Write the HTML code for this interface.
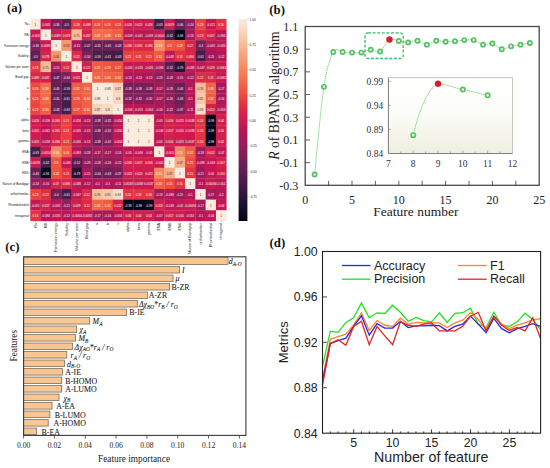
<!DOCTYPE html>
<html><head><meta charset="utf-8"><title>Figure</title>
<style>
html,body{margin:0;padding:0;background:#fff;}
body{width:550px;height:468px;overflow:hidden;}
svg{display:block;}
.plab{font-family:"Liberation Serif",serif;font-weight:bold;font-size:12.8px;fill:#111;}
.ann{font-family:"Liberation Sans",sans-serif;font-size:3.0px;text-anchor:middle;}
.hyl{font-family:"Liberation Sans",sans-serif;font-size:3.1px;fill:#1a1a1a;text-anchor:end;}
.hxl{font-family:"Liberation Sans",sans-serif;font-size:3.1px;fill:#1a1a1a;text-anchor:end;}
.cbl{font-family:"Liberation Sans",sans-serif;font-size:3.2px;fill:#1a1a1a;}
.bt{font-family:"Liberation Serif",serif;font-size:12px;fill:#222;}
.bxl{font-family:"Liberation Serif",serif;font-size:13.5px;fill:#222;}
.it{font-family:"Liberation Serif",serif;font-size:9.5px;fill:#333;}
.cl{font-family:"Liberation Serif",serif;font-size:7.9px;fill:#222;stroke:#222;stroke-width:0.08px;}
.ct{font-family:"Liberation Serif",serif;font-size:7.6px;fill:#222;}
.cxl{font-family:"Liberation Serif",serif;font-size:9.3px;fill:#222;}
.dt{font-family:"Liberation Sans",sans-serif;font-size:12.3px;fill:#222;}
.dxl{font-family:"Liberation Sans",sans-serif;font-size:14.2px;fill:#222;}
.dyl{font-family:"Liberation Sans",sans-serif;font-size:13px;fill:#222;}
.dleg{font-family:"Liberation Sans",sans-serif;font-size:12.5px;fill:#222;}
</style></head>
<body>
<svg width="550" height="468" viewBox="0 0 550 468">
<rect width="550" height="468" fill="#fff"/>
<g id="pa">
<text x="7" y="11.8" class="plab">(a)</text>
<rect x="30.30" y="18.90" width="10.57" height="10.88" fill="#faebdd"/>
<rect x="40.62" y="18.90" width="10.57" height="10.88" fill="#c81951"/>
<rect x="50.93" y="18.90" width="10.57" height="10.88" fill="#7d1f5a"/>
<rect x="61.25" y="18.90" width="10.57" height="10.88" fill="#601f52"/>
<rect x="71.56" y="18.90" width="10.57" height="10.88" fill="#e53940"/>
<rect x="81.88" y="18.90" width="10.57" height="10.88" fill="#d82748"/>
<rect x="92.19" y="18.90" width="10.57" height="10.88" fill="#ec4c3e"/>
<rect x="102.51" y="18.90" width="10.57" height="10.88" fill="#ec4a3e"/>
<rect x="112.83" y="18.90" width="10.57" height="10.88" fill="#ea443e"/>
<rect x="123.14" y="18.90" width="10.57" height="10.88" fill="#ce1d4e"/>
<rect x="133.46" y="18.90" width="10.57" height="10.88" fill="#ce1d4e"/>
<rect x="143.77" y="18.90" width="10.57" height="10.88" fill="#ce1d4e"/>
<rect x="154.09" y="18.90" width="10.57" height="10.88" fill="#451c47"/>
<rect x="164.41" y="18.90" width="10.57" height="10.88" fill="#cb1b4f"/>
<rect x="174.72" y="18.90" width="10.57" height="10.88" fill="#681f55"/>
<rect x="185.04" y="18.90" width="10.57" height="10.88" fill="#971c5b"/>
<rect x="195.35" y="18.90" width="10.57" height="10.88" fill="#ea443e"/>
<rect x="205.67" y="18.90" width="10.57" height="10.88" fill="#c51852"/>
<rect x="215.98" y="18.90" width="10.57" height="10.88" fill="#e23442"/>
<rect x="30.30" y="29.53" width="10.57" height="10.88" fill="#c81951"/>
<rect x="40.62" y="29.53" width="10.57" height="10.88" fill="#faebdd"/>
<rect x="50.93" y="29.53" width="10.57" height="10.88" fill="#cb1b4f"/>
<rect x="61.25" y="29.53" width="10.57" height="10.88" fill="#d72549"/>
<rect x="71.56" y="29.53" width="10.57" height="10.88" fill="#f6bb97"/>
<rect x="81.88" y="29.53" width="10.57" height="10.88" fill="#d5224a"/>
<rect x="92.19" y="29.53" width="10.57" height="10.88" fill="#f26d4b"/>
<rect x="102.51" y="29.53" width="10.57" height="10.88" fill="#f26b49"/>
<rect x="112.83" y="29.53" width="10.57" height="10.88" fill="#f05e42"/>
<rect x="123.14" y="29.53" width="10.57" height="10.88" fill="#bd1655"/>
<rect x="133.46" y="29.53" width="10.57" height="10.88" fill="#bd1655"/>
<rect x="143.77" y="29.53" width="10.57" height="10.88" fill="#bd1655"/>
<rect x="154.09" y="29.53" width="10.57" height="10.88" fill="#c81951"/>
<rect x="164.41" y="29.53" width="10.57" height="10.88" fill="#461c48"/>
<rect x="174.72" y="29.53" width="10.57" height="10.88" fill="#0a091f"/>
<rect x="185.04" y="29.53" width="10.57" height="10.88" fill="#a8185a"/>
<rect x="195.35" y="29.53" width="10.57" height="10.88" fill="#df2f44"/>
<rect x="205.67" y="29.53" width="10.57" height="10.88" fill="#d3214b"/>
<rect x="215.98" y="29.53" width="10.57" height="10.88" fill="#b91657"/>
<rect x="30.30" y="40.16" width="10.57" height="10.88" fill="#7d1f5a"/>
<rect x="40.62" y="40.16" width="10.57" height="10.88" fill="#cb1b4f"/>
<rect x="50.93" y="40.16" width="10.57" height="10.88" fill="#faebdd"/>
<rect x="61.25" y="40.16" width="10.57" height="10.88" fill="#f5976e"/>
<rect x="71.56" y="40.16" width="10.57" height="10.88" fill="#ab185a"/>
<rect x="81.88" y="40.16" width="10.57" height="10.88" fill="#641f54"/>
<rect x="92.19" y="40.16" width="10.57" height="10.88" fill="#691f55"/>
<rect x="102.51" y="40.16" width="10.57" height="10.88" fill="#691f55"/>
<rect x="112.83" y="40.16" width="10.57" height="10.88" fill="#6e1f57"/>
<rect x="123.14" y="40.16" width="10.57" height="10.88" fill="#d92847"/>
<rect x="133.46" y="40.16" width="10.57" height="10.88" fill="#d92847"/>
<rect x="143.77" y="40.16" width="10.57" height="10.88" fill="#d92847"/>
<rect x="154.09" y="40.16" width="10.57" height="10.88" fill="#f58d64"/>
<rect x="164.41" y="40.16" width="10.57" height="10.88" fill="#ef5640"/>
<rect x="174.72" y="40.16" width="10.57" height="10.88" fill="#ee523f"/>
<rect x="185.04" y="40.16" width="10.57" height="10.88" fill="#d62449"/>
<rect x="195.35" y="40.16" width="10.57" height="10.88" fill="#731f58"/>
<rect x="205.67" y="40.16" width="10.57" height="10.88" fill="#b71657"/>
<rect x="215.98" y="40.16" width="10.57" height="10.88" fill="#c21753"/>
<rect x="30.30" y="50.79" width="10.57" height="10.88" fill="#601f52"/>
<rect x="40.62" y="50.79" width="10.57" height="10.88" fill="#d72549"/>
<rect x="50.93" y="50.79" width="10.57" height="10.88" fill="#f5976e"/>
<rect x="61.25" y="50.79" width="10.57" height="10.88" fill="#faebdd"/>
<rect x="71.56" y="50.79" width="10.57" height="10.88" fill="#dd2c45"/>
<rect x="81.88" y="50.79" width="10.57" height="10.88" fill="#811e5a"/>
<rect x="92.19" y="50.79" width="10.57" height="10.88" fill="#4c1d4b"/>
<rect x="102.51" y="50.79" width="10.57" height="10.88" fill="#481c48"/>
<rect x="112.83" y="50.79" width="10.57" height="10.88" fill="#451c47"/>
<rect x="123.14" y="50.79" width="10.57" height="10.88" fill="#e8403e"/>
<rect x="133.46" y="50.79" width="10.57" height="10.88" fill="#e8403e"/>
<rect x="143.77" y="50.79" width="10.57" height="10.88" fill="#e8403e"/>
<rect x="154.09" y="50.79" width="10.57" height="10.88" fill="#ef5a41"/>
<rect x="164.41" y="50.79" width="10.57" height="10.88" fill="#c11754"/>
<rect x="174.72" y="50.79" width="10.57" height="10.88" fill="#e13342"/>
<rect x="185.04" y="50.79" width="10.57" height="10.88" fill="#d92847"/>
<rect x="195.35" y="50.79" width="10.57" height="10.88" fill="#481c48"/>
<rect x="205.67" y="50.79" width="10.57" height="10.88" fill="#9e1a5b"/>
<rect x="215.98" y="50.79" width="10.57" height="10.88" fill="#b01759"/>
<rect x="30.30" y="61.43" width="10.57" height="10.88" fill="#e53940"/>
<rect x="40.62" y="61.43" width="10.57" height="10.88" fill="#f6bb97"/>
<rect x="50.93" y="61.43" width="10.57" height="10.88" fill="#ab185a"/>
<rect x="61.25" y="61.43" width="10.57" height="10.88" fill="#dd2c45"/>
<rect x="71.56" y="61.43" width="10.57" height="10.88" fill="#faebdd"/>
<rect x="81.88" y="61.43" width="10.57" height="10.88" fill="#ce1d4e"/>
<rect x="92.19" y="61.43" width="10.57" height="10.88" fill="#f05c42"/>
<rect x="102.51" y="61.43" width="10.57" height="10.88" fill="#ee543f"/>
<rect x="112.83" y="61.43" width="10.57" height="10.88" fill="#ed503e"/>
<rect x="123.14" y="61.43" width="10.57" height="10.88" fill="#c51852"/>
<rect x="133.46" y="61.43" width="10.57" height="10.88" fill="#c51852"/>
<rect x="143.77" y="61.43" width="10.57" height="10.88" fill="#c51852"/>
<rect x="154.09" y="61.43" width="10.57" height="10.88" fill="#b71657"/>
<rect x="164.41" y="61.43" width="10.57" height="10.88" fill="#5b1e51"/>
<rect x="174.72" y="61.43" width="10.57" height="10.88" fill="#251433"/>
<rect x="185.04" y="61.43" width="10.57" height="10.88" fill="#c21753"/>
<rect x="195.35" y="61.43" width="10.57" height="10.88" fill="#c11754"/>
<rect x="205.67" y="61.43" width="10.57" height="10.88" fill="#cf1e4d"/>
<rect x="215.98" y="61.43" width="10.57" height="10.88" fill="#c81951"/>
<rect x="30.30" y="72.06" width="10.57" height="10.88" fill="#d82748"/>
<rect x="40.62" y="72.06" width="10.57" height="10.88" fill="#d5224a"/>
<rect x="50.93" y="72.06" width="10.57" height="10.88" fill="#641f54"/>
<rect x="61.25" y="72.06" width="10.57" height="10.88" fill="#811e5a"/>
<rect x="71.56" y="72.06" width="10.57" height="10.88" fill="#ce1d4e"/>
<rect x="81.88" y="72.06" width="10.57" height="10.88" fill="#faebdd"/>
<rect x="92.19" y="72.06" width="10.57" height="10.88" fill="#f16445"/>
<rect x="102.51" y="72.06" width="10.57" height="10.88" fill="#f16244"/>
<rect x="112.83" y="72.06" width="10.57" height="10.88" fill="#f16244"/>
<rect x="123.14" y="72.06" width="10.57" height="10.88" fill="#af1759"/>
<rect x="133.46" y="72.06" width="10.57" height="10.88" fill="#af1759"/>
<rect x="143.77" y="72.06" width="10.57" height="10.88" fill="#af1759"/>
<rect x="154.09" y="72.06" width="10.57" height="10.88" fill="#8e1d5b"/>
<rect x="164.41" y="72.06" width="10.57" height="10.88" fill="#8e1d5b"/>
<rect x="174.72" y="72.06" width="10.57" height="10.88" fill="#ab185a"/>
<rect x="185.04" y="72.06" width="10.57" height="10.88" fill="#b01759"/>
<rect x="195.35" y="72.06" width="10.57" height="10.88" fill="#dd2c45"/>
<rect x="205.67" y="72.06" width="10.57" height="10.88" fill="#dc2b46"/>
<rect x="215.98" y="72.06" width="10.57" height="10.88" fill="#c81951"/>
<rect x="30.30" y="82.69" width="10.57" height="10.88" fill="#ec4c3e"/>
<rect x="40.62" y="82.69" width="10.57" height="10.88" fill="#f26d4b"/>
<rect x="50.93" y="82.69" width="10.57" height="10.88" fill="#691f55"/>
<rect x="61.25" y="82.69" width="10.57" height="10.88" fill="#4c1d4b"/>
<rect x="71.56" y="82.69" width="10.57" height="10.88" fill="#f05c42"/>
<rect x="81.88" y="82.69" width="10.57" height="10.88" fill="#f16445"/>
<rect x="92.19" y="82.69" width="10.57" height="10.88" fill="#faebdd"/>
<rect x="102.51" y="82.69" width="10.57" height="10.88" fill="#fae8d8"/>
<rect x="112.83" y="82.69" width="10.57" height="10.88" fill="#f8d3ba"/>
<rect x="123.14" y="82.69" width="10.57" height="10.88" fill="#781f59"/>
<rect x="133.46" y="82.69" width="10.57" height="10.88" fill="#781f59"/>
<rect x="143.77" y="82.69" width="10.57" height="10.88" fill="#781f59"/>
<rect x="154.09" y="82.69" width="10.57" height="10.88" fill="#a6195a"/>
<rect x="164.41" y="82.69" width="10.57" height="10.88" fill="#8e1d5b"/>
<rect x="174.72" y="82.69" width="10.57" height="10.88" fill="#6b1f56"/>
<rect x="185.04" y="82.69" width="10.57" height="10.88" fill="#b51657"/>
<rect x="195.35" y="82.69" width="10.57" height="10.88" fill="#f6be9b"/>
<rect x="205.67" y="82.69" width="10.57" height="10.88" fill="#f16646"/>
<rect x="215.98" y="82.69" width="10.57" height="10.88" fill="#a6195a"/>
<rect x="30.30" y="93.32" width="10.57" height="10.88" fill="#ec4a3e"/>
<rect x="40.62" y="93.32" width="10.57" height="10.88" fill="#f26b49"/>
<rect x="50.93" y="93.32" width="10.57" height="10.88" fill="#691f55"/>
<rect x="61.25" y="93.32" width="10.57" height="10.88" fill="#481c48"/>
<rect x="71.56" y="93.32" width="10.57" height="10.88" fill="#ee543f"/>
<rect x="81.88" y="93.32" width="10.57" height="10.88" fill="#f16244"/>
<rect x="92.19" y="93.32" width="10.57" height="10.88" fill="#fae8d8"/>
<rect x="102.51" y="93.32" width="10.57" height="10.88" fill="#faebdd"/>
<rect x="112.83" y="93.32" width="10.57" height="10.88" fill="#f8d9c3"/>
<rect x="123.14" y="93.32" width="10.57" height="10.88" fill="#861e5b"/>
<rect x="133.46" y="93.32" width="10.57" height="10.88" fill="#861e5b"/>
<rect x="143.77" y="93.32" width="10.57" height="10.88" fill="#861e5b"/>
<rect x="154.09" y="93.32" width="10.57" height="10.88" fill="#a6195a"/>
<rect x="164.41" y="93.32" width="10.57" height="10.88" fill="#921c5b"/>
<rect x="174.72" y="93.32" width="10.57" height="10.88" fill="#6e1f57"/>
<rect x="185.04" y="93.32" width="10.57" height="10.88" fill="#b51657"/>
<rect x="195.35" y="93.32" width="10.57" height="10.88" fill="#f7c7a8"/>
<rect x="205.67" y="93.32" width="10.57" height="10.88" fill="#f05c42"/>
<rect x="215.98" y="93.32" width="10.57" height="10.88" fill="#a8185a"/>
<rect x="30.30" y="103.95" width="10.57" height="10.88" fill="#ea443e"/>
<rect x="40.62" y="103.95" width="10.57" height="10.88" fill="#f05e42"/>
<rect x="50.93" y="103.95" width="10.57" height="10.88" fill="#6e1f57"/>
<rect x="61.25" y="103.95" width="10.57" height="10.88" fill="#451c47"/>
<rect x="71.56" y="103.95" width="10.57" height="10.88" fill="#ed503e"/>
<rect x="81.88" y="103.95" width="10.57" height="10.88" fill="#f16244"/>
<rect x="92.19" y="103.95" width="10.57" height="10.88" fill="#f8d3ba"/>
<rect x="102.51" y="103.95" width="10.57" height="10.88" fill="#f8d9c3"/>
<rect x="112.83" y="103.95" width="10.57" height="10.88" fill="#faebdd"/>
<rect x="123.14" y="103.95" width="10.57" height="10.88" fill="#bf1654"/>
<rect x="133.46" y="103.95" width="10.57" height="10.88" fill="#bf1654"/>
<rect x="143.77" y="103.95" width="10.57" height="10.88" fill="#bf1654"/>
<rect x="154.09" y="103.95" width="10.57" height="10.88" fill="#a8185a"/>
<rect x="164.41" y="103.95" width="10.57" height="10.88" fill="#9c1b5b"/>
<rect x="174.72" y="103.95" width="10.57" height="10.88" fill="#7a1f59"/>
<rect x="185.04" y="103.95" width="10.57" height="10.88" fill="#b41658"/>
<rect x="195.35" y="103.95" width="10.57" height="10.88" fill="#f9ddc9"/>
<rect x="205.67" y="103.95" width="10.57" height="10.88" fill="#d3214b"/>
<rect x="215.98" y="103.95" width="10.57" height="10.88" fill="#bf1654"/>
<rect x="30.30" y="114.58" width="10.57" height="10.88" fill="#ce1d4e"/>
<rect x="40.62" y="114.58" width="10.57" height="10.88" fill="#bd1655"/>
<rect x="50.93" y="114.58" width="10.57" height="10.88" fill="#d92847"/>
<rect x="61.25" y="114.58" width="10.57" height="10.88" fill="#e8403e"/>
<rect x="71.56" y="114.58" width="10.57" height="10.88" fill="#c51852"/>
<rect x="81.88" y="114.58" width="10.57" height="10.88" fill="#af1759"/>
<rect x="92.19" y="114.58" width="10.57" height="10.88" fill="#781f59"/>
<rect x="102.51" y="114.58" width="10.57" height="10.88" fill="#861e5b"/>
<rect x="112.83" y="114.58" width="10.57" height="10.88" fill="#bf1654"/>
<rect x="123.14" y="114.58" width="10.57" height="10.88" fill="#faebdd"/>
<rect x="133.46" y="114.58" width="10.57" height="10.88" fill="#faebdd"/>
<rect x="143.77" y="114.58" width="10.57" height="10.88" fill="#faebdd"/>
<rect x="154.09" y="114.58" width="10.57" height="10.88" fill="#bf1654"/>
<rect x="164.41" y="114.58" width="10.57" height="10.88" fill="#d3214b"/>
<rect x="174.72" y="114.58" width="10.57" height="10.88" fill="#ce1d4e"/>
<rect x="185.04" y="114.58" width="10.57" height="10.88" fill="#ca1a50"/>
<rect x="195.35" y="114.58" width="10.57" height="10.88" fill="#e23442"/>
<rect x="205.67" y="114.58" width="10.57" height="10.88" fill="#03051a"/>
<rect x="215.98" y="114.58" width="10.57" height="10.88" fill="#d11f4c"/>
<rect x="30.30" y="125.22" width="10.57" height="10.88" fill="#ce1d4e"/>
<rect x="40.62" y="125.22" width="10.57" height="10.88" fill="#bd1655"/>
<rect x="50.93" y="125.22" width="10.57" height="10.88" fill="#d92847"/>
<rect x="61.25" y="125.22" width="10.57" height="10.88" fill="#e8403e"/>
<rect x="71.56" y="125.22" width="10.57" height="10.88" fill="#c51852"/>
<rect x="81.88" y="125.22" width="10.57" height="10.88" fill="#af1759"/>
<rect x="92.19" y="125.22" width="10.57" height="10.88" fill="#781f59"/>
<rect x="102.51" y="125.22" width="10.57" height="10.88" fill="#861e5b"/>
<rect x="112.83" y="125.22" width="10.57" height="10.88" fill="#bf1654"/>
<rect x="123.14" y="125.22" width="10.57" height="10.88" fill="#faebdd"/>
<rect x="133.46" y="125.22" width="10.57" height="10.88" fill="#faebdd"/>
<rect x="143.77" y="125.22" width="10.57" height="10.88" fill="#faebdd"/>
<rect x="154.09" y="125.22" width="10.57" height="10.88" fill="#c11754"/>
<rect x="164.41" y="125.22" width="10.57" height="10.88" fill="#d3214b"/>
<rect x="174.72" y="125.22" width="10.57" height="10.88" fill="#ce1d4e"/>
<rect x="185.04" y="125.22" width="10.57" height="10.88" fill="#ca1a50"/>
<rect x="195.35" y="125.22" width="10.57" height="10.88" fill="#e23442"/>
<rect x="205.67" y="125.22" width="10.57" height="10.88" fill="#03051a"/>
<rect x="215.98" y="125.22" width="10.57" height="10.88" fill="#d11f4c"/>
<rect x="30.30" y="135.85" width="10.57" height="10.88" fill="#ce1d4e"/>
<rect x="40.62" y="135.85" width="10.57" height="10.88" fill="#bd1655"/>
<rect x="50.93" y="135.85" width="10.57" height="10.88" fill="#d92847"/>
<rect x="61.25" y="135.85" width="10.57" height="10.88" fill="#e8403e"/>
<rect x="71.56" y="135.85" width="10.57" height="10.88" fill="#c51852"/>
<rect x="81.88" y="135.85" width="10.57" height="10.88" fill="#af1759"/>
<rect x="92.19" y="135.85" width="10.57" height="10.88" fill="#781f59"/>
<rect x="102.51" y="135.85" width="10.57" height="10.88" fill="#861e5b"/>
<rect x="112.83" y="135.85" width="10.57" height="10.88" fill="#bf1654"/>
<rect x="123.14" y="135.85" width="10.57" height="10.88" fill="#faebdd"/>
<rect x="133.46" y="135.85" width="10.57" height="10.88" fill="#faebdd"/>
<rect x="143.77" y="135.85" width="10.57" height="10.88" fill="#faebdd"/>
<rect x="154.09" y="135.85" width="10.57" height="10.88" fill="#bf1654"/>
<rect x="164.41" y="135.85" width="10.57" height="10.88" fill="#d3214b"/>
<rect x="174.72" y="135.85" width="10.57" height="10.88" fill="#ce1d4e"/>
<rect x="185.04" y="135.85" width="10.57" height="10.88" fill="#ca1a50"/>
<rect x="195.35" y="135.85" width="10.57" height="10.88" fill="#e23442"/>
<rect x="205.67" y="135.85" width="10.57" height="10.88" fill="#03051a"/>
<rect x="215.98" y="135.85" width="10.57" height="10.88" fill="#d11f4c"/>
<rect x="30.30" y="146.48" width="10.57" height="10.88" fill="#451c47"/>
<rect x="40.62" y="146.48" width="10.57" height="10.88" fill="#c81951"/>
<rect x="50.93" y="146.48" width="10.57" height="10.88" fill="#f58d64"/>
<rect x="61.25" y="146.48" width="10.57" height="10.88" fill="#ef5a41"/>
<rect x="71.56" y="146.48" width="10.57" height="10.88" fill="#b71657"/>
<rect x="81.88" y="146.48" width="10.57" height="10.88" fill="#8e1d5b"/>
<rect x="92.19" y="146.48" width="10.57" height="10.88" fill="#a6195a"/>
<rect x="102.51" y="146.48" width="10.57" height="10.88" fill="#a6195a"/>
<rect x="112.83" y="146.48" width="10.57" height="10.88" fill="#a8185a"/>
<rect x="123.14" y="146.48" width="10.57" height="10.88" fill="#bf1654"/>
<rect x="133.46" y="146.48" width="10.57" height="10.88" fill="#c11754"/>
<rect x="143.77" y="146.48" width="10.57" height="10.88" fill="#bf1654"/>
<rect x="154.09" y="146.48" width="10.57" height="10.88" fill="#faebdd"/>
<rect x="164.41" y="146.48" width="10.57" height="10.88" fill="#ca1a50"/>
<rect x="174.72" y="146.48" width="10.57" height="10.88" fill="#f58860"/>
<rect x="185.04" y="146.48" width="10.57" height="10.88" fill="#f05c42"/>
<rect x="195.35" y="146.48" width="10.57" height="10.88" fill="#a4195b"/>
<rect x="205.67" y="146.48" width="10.57" height="10.88" fill="#d3214b"/>
<rect x="215.98" y="146.48" width="10.57" height="10.88" fill="#bc1656"/>
<rect x="30.30" y="157.11" width="10.57" height="10.88" fill="#cb1b4f"/>
<rect x="40.62" y="157.11" width="10.57" height="10.88" fill="#461c48"/>
<rect x="50.93" y="157.11" width="10.57" height="10.88" fill="#ef5640"/>
<rect x="61.25" y="157.11" width="10.57" height="10.88" fill="#c11754"/>
<rect x="71.56" y="157.11" width="10.57" height="10.88" fill="#5b1e51"/>
<rect x="81.88" y="157.11" width="10.57" height="10.88" fill="#8e1d5b"/>
<rect x="92.19" y="157.11" width="10.57" height="10.88" fill="#8e1d5b"/>
<rect x="102.51" y="157.11" width="10.57" height="10.88" fill="#921c5b"/>
<rect x="112.83" y="157.11" width="10.57" height="10.88" fill="#9c1b5b"/>
<rect x="123.14" y="157.11" width="10.57" height="10.88" fill="#d3214b"/>
<rect x="133.46" y="157.11" width="10.57" height="10.88" fill="#d3214b"/>
<rect x="143.77" y="157.11" width="10.57" height="10.88" fill="#d3214b"/>
<rect x="154.09" y="157.11" width="10.57" height="10.88" fill="#ca1a50"/>
<rect x="164.41" y="157.11" width="10.57" height="10.88" fill="#faebdd"/>
<rect x="174.72" y="157.11" width="10.57" height="10.88" fill="#f6ab83"/>
<rect x="185.04" y="157.11" width="10.57" height="10.88" fill="#ec4a3e"/>
<rect x="195.35" y="157.11" width="10.57" height="10.88" fill="#b71657"/>
<rect x="205.67" y="157.11" width="10.57" height="10.88" fill="#c11754"/>
<rect x="215.98" y="157.11" width="10.57" height="10.88" fill="#d3214b"/>
<rect x="30.30" y="167.74" width="10.57" height="10.88" fill="#681f55"/>
<rect x="40.62" y="167.74" width="10.57" height="10.88" fill="#0a091f"/>
<rect x="50.93" y="167.74" width="10.57" height="10.88" fill="#ee523f"/>
<rect x="61.25" y="167.74" width="10.57" height="10.88" fill="#e13342"/>
<rect x="71.56" y="167.74" width="10.57" height="10.88" fill="#251433"/>
<rect x="81.88" y="167.74" width="10.57" height="10.88" fill="#ab185a"/>
<rect x="92.19" y="167.74" width="10.57" height="10.88" fill="#6b1f56"/>
<rect x="102.51" y="167.74" width="10.57" height="10.88" fill="#6e1f57"/>
<rect x="112.83" y="167.74" width="10.57" height="10.88" fill="#7a1f59"/>
<rect x="123.14" y="167.74" width="10.57" height="10.88" fill="#ce1d4e"/>
<rect x="133.46" y="167.74" width="10.57" height="10.88" fill="#ce1d4e"/>
<rect x="143.77" y="167.74" width="10.57" height="10.88" fill="#ce1d4e"/>
<rect x="154.09" y="167.74" width="10.57" height="10.88" fill="#f58860"/>
<rect x="164.41" y="167.74" width="10.57" height="10.88" fill="#f6ab83"/>
<rect x="174.72" y="167.74" width="10.57" height="10.88" fill="#faebdd"/>
<rect x="185.04" y="167.74" width="10.57" height="10.88" fill="#e13342"/>
<rect x="195.35" y="167.74" width="10.57" height="10.88" fill="#9e1a5b"/>
<rect x="205.67" y="167.74" width="10.57" height="10.88" fill="#c51852"/>
<rect x="215.98" y="167.74" width="10.57" height="10.88" fill="#cd1c4e"/>
<rect x="30.30" y="178.37" width="10.57" height="10.88" fill="#971c5b"/>
<rect x="40.62" y="178.37" width="10.57" height="10.88" fill="#a8185a"/>
<rect x="50.93" y="178.37" width="10.57" height="10.88" fill="#d62449"/>
<rect x="61.25" y="178.37" width="10.57" height="10.88" fill="#d92847"/>
<rect x="71.56" y="178.37" width="10.57" height="10.88" fill="#c21753"/>
<rect x="81.88" y="178.37" width="10.57" height="10.88" fill="#b01759"/>
<rect x="92.19" y="178.37" width="10.57" height="10.88" fill="#b51657"/>
<rect x="102.51" y="178.37" width="10.57" height="10.88" fill="#b51657"/>
<rect x="112.83" y="178.37" width="10.57" height="10.88" fill="#b41658"/>
<rect x="123.14" y="178.37" width="10.57" height="10.88" fill="#ca1a50"/>
<rect x="133.46" y="178.37" width="10.57" height="10.88" fill="#ca1a50"/>
<rect x="143.77" y="178.37" width="10.57" height="10.88" fill="#ca1a50"/>
<rect x="154.09" y="178.37" width="10.57" height="10.88" fill="#f05c42"/>
<rect x="164.41" y="178.37" width="10.57" height="10.88" fill="#ec4a3e"/>
<rect x="174.72" y="178.37" width="10.57" height="10.88" fill="#e13342"/>
<rect x="185.04" y="178.37" width="10.57" height="10.88" fill="#faebdd"/>
<rect x="195.35" y="178.37" width="10.57" height="10.88" fill="#b51657"/>
<rect x="205.67" y="178.37" width="10.57" height="10.88" fill="#ca1a50"/>
<rect x="215.98" y="178.37" width="10.57" height="10.88" fill="#bf1654"/>
<rect x="30.30" y="189.01" width="10.57" height="10.88" fill="#ea443e"/>
<rect x="40.62" y="189.01" width="10.57" height="10.88" fill="#df2f44"/>
<rect x="50.93" y="189.01" width="10.57" height="10.88" fill="#731f58"/>
<rect x="61.25" y="189.01" width="10.57" height="10.88" fill="#481c48"/>
<rect x="71.56" y="189.01" width="10.57" height="10.88" fill="#c11754"/>
<rect x="81.88" y="189.01" width="10.57" height="10.88" fill="#dd2c45"/>
<rect x="92.19" y="189.01" width="10.57" height="10.88" fill="#f6be9b"/>
<rect x="102.51" y="189.01" width="10.57" height="10.88" fill="#f7c7a8"/>
<rect x="112.83" y="189.01" width="10.57" height="10.88" fill="#f9ddc9"/>
<rect x="123.14" y="189.01" width="10.57" height="10.88" fill="#e23442"/>
<rect x="133.46" y="189.01" width="10.57" height="10.88" fill="#e23442"/>
<rect x="143.77" y="189.01" width="10.57" height="10.88" fill="#e23442"/>
<rect x="154.09" y="189.01" width="10.57" height="10.88" fill="#a4195b"/>
<rect x="164.41" y="189.01" width="10.57" height="10.88" fill="#b71657"/>
<rect x="174.72" y="189.01" width="10.57" height="10.88" fill="#9e1a5b"/>
<rect x="185.04" y="189.01" width="10.57" height="10.88" fill="#b51657"/>
<rect x="195.35" y="189.01" width="10.57" height="10.88" fill="#faebdd"/>
<rect x="205.67" y="189.01" width="10.57" height="10.88" fill="#a6195a"/>
<rect x="215.98" y="189.01" width="10.57" height="10.88" fill="#b51657"/>
<rect x="30.30" y="199.64" width="10.57" height="10.88" fill="#c51852"/>
<rect x="40.62" y="199.64" width="10.57" height="10.88" fill="#d3214b"/>
<rect x="50.93" y="199.64" width="10.57" height="10.88" fill="#b71657"/>
<rect x="61.25" y="199.64" width="10.57" height="10.88" fill="#9e1a5b"/>
<rect x="71.56" y="199.64" width="10.57" height="10.88" fill="#cf1e4d"/>
<rect x="81.88" y="199.64" width="10.57" height="10.88" fill="#dc2b46"/>
<rect x="92.19" y="199.64" width="10.57" height="10.88" fill="#f16646"/>
<rect x="102.51" y="199.64" width="10.57" height="10.88" fill="#f05c42"/>
<rect x="112.83" y="199.64" width="10.57" height="10.88" fill="#d3214b"/>
<rect x="123.14" y="199.64" width="10.57" height="10.88" fill="#03051a"/>
<rect x="133.46" y="199.64" width="10.57" height="10.88" fill="#03051a"/>
<rect x="143.77" y="199.64" width="10.57" height="10.88" fill="#03051a"/>
<rect x="154.09" y="199.64" width="10.57" height="10.88" fill="#d3214b"/>
<rect x="164.41" y="199.64" width="10.57" height="10.88" fill="#c11754"/>
<rect x="174.72" y="199.64" width="10.57" height="10.88" fill="#c51852"/>
<rect x="185.04" y="199.64" width="10.57" height="10.88" fill="#ca1a50"/>
<rect x="195.35" y="199.64" width="10.57" height="10.88" fill="#a6195a"/>
<rect x="205.67" y="199.64" width="10.57" height="10.88" fill="#faebdd"/>
<rect x="215.98" y="199.64" width="10.57" height="10.88" fill="#c21753"/>
<rect x="30.30" y="210.27" width="10.57" height="10.88" fill="#e23442"/>
<rect x="40.62" y="210.27" width="10.57" height="10.88" fill="#b91657"/>
<rect x="50.93" y="210.27" width="10.57" height="10.88" fill="#c21753"/>
<rect x="61.25" y="210.27" width="10.57" height="10.88" fill="#b01759"/>
<rect x="71.56" y="210.27" width="10.57" height="10.88" fill="#c81951"/>
<rect x="81.88" y="210.27" width="10.57" height="10.88" fill="#c81951"/>
<rect x="92.19" y="210.27" width="10.57" height="10.88" fill="#a6195a"/>
<rect x="102.51" y="210.27" width="10.57" height="10.88" fill="#a8185a"/>
<rect x="112.83" y="210.27" width="10.57" height="10.88" fill="#bf1654"/>
<rect x="123.14" y="210.27" width="10.57" height="10.88" fill="#d11f4c"/>
<rect x="133.46" y="210.27" width="10.57" height="10.88" fill="#d11f4c"/>
<rect x="143.77" y="210.27" width="10.57" height="10.88" fill="#d11f4c"/>
<rect x="154.09" y="210.27" width="10.57" height="10.88" fill="#bc1656"/>
<rect x="164.41" y="210.27" width="10.57" height="10.88" fill="#d3214b"/>
<rect x="174.72" y="210.27" width="10.57" height="10.88" fill="#cd1c4e"/>
<rect x="185.04" y="210.27" width="10.57" height="10.88" fill="#bf1654"/>
<rect x="195.35" y="210.27" width="10.57" height="10.88" fill="#b51657"/>
<rect x="205.67" y="210.27" width="10.57" height="10.88" fill="#c21753"/>
<rect x="215.98" y="210.27" width="10.57" height="10.88" fill="#faebdd"/>
<text x="35.46" y="26.02" class="ann" fill="#2a2a2a">1</text>
<text x="45.77" y="26.02" class="ann" fill="#ffffff">-0.003</text>
<text x="56.09" y="26.02" class="ann" fill="#ffffff">-0.36</text>
<text x="66.41" y="26.02" class="ann" fill="#ffffff">-0.5</text>
<text x="76.72" y="26.02" class="ann" fill="#ffffff">0.18</text>
<text x="87.04" y="26.02" class="ann" fill="#ffffff">0.089</text>
<text x="97.35" y="26.02" class="ann" fill="#ffffff">0.26</text>
<text x="107.67" y="26.02" class="ann" fill="#ffffff">0.25</text>
<text x="117.98" y="26.02" class="ann" fill="#ffffff">0.23</text>
<text x="128.30" y="26.02" class="ann" fill="#ffffff">0.026</text>
<text x="138.62" y="26.02" class="ann" fill="#ffffff">0.025</text>
<text x="148.93" y="26.02" class="ann" fill="#ffffff">0.026</text>
<text x="159.25" y="26.02" class="ann" fill="#ffffff">-0.63</text>
<text x="169.56" y="26.02" class="ann" fill="#ffffff">0.0079</text>
<text x="179.88" y="26.02" class="ann" fill="#ffffff">-0.46</text>
<text x="190.19" y="26.02" class="ann" fill="#ffffff">-0.24</text>
<text x="200.51" y="26.02" class="ann" fill="#ffffff">0.23</text>
<text x="210.83" y="26.02" class="ann" fill="#ffffff">-0.021</text>
<text x="221.14" y="26.02" class="ann" fill="#ffffff">0.16</text>
<text x="35.46" y="36.65" class="ann" fill="#ffffff">-0.003</text>
<text x="45.77" y="36.65" class="ann" fill="#2a2a2a">1</text>
<text x="56.09" y="36.65" class="ann" fill="#ffffff">0.0089</text>
<text x="66.41" y="36.65" class="ann" fill="#ffffff">0.078</text>
<text x="76.72" y="36.65" class="ann" fill="#2a2a2a">0.75</text>
<text x="87.04" y="36.65" class="ann" fill="#ffffff">0.067</text>
<text x="97.35" y="36.65" class="ann" fill="#ffffff">0.39</text>
<text x="107.67" y="36.65" class="ann" fill="#ffffff">0.38</text>
<text x="117.98" y="36.65" class="ann" fill="#ffffff">0.33</text>
<text x="128.30" y="36.65" class="ann" fill="#ffffff">-0.059</text>
<text x="138.62" y="36.65" class="ann" fill="#ffffff">-0.061</text>
<text x="148.93" y="36.65" class="ann" fill="#ffffff">-0.059</text>
<text x="159.25" y="36.65" class="ann" fill="#ffffff">-0.0054</text>
<text x="169.56" y="36.65" class="ann" fill="#ffffff">-0.62</text>
<text x="179.88" y="36.65" class="ann" fill="#ffffff">-0.94</text>
<text x="190.19" y="36.65" class="ann" fill="#ffffff">-0.16</text>
<text x="200.51" y="36.65" class="ann" fill="#ffffff">0.13</text>
<text x="210.83" y="36.65" class="ann" fill="#ffffff">0.057</text>
<text x="221.14" y="36.65" class="ann" fill="#ffffff">-0.084</text>
<text x="35.46" y="47.28" class="ann" fill="#ffffff">-0.36</text>
<text x="45.77" y="47.28" class="ann" fill="#ffffff">0.0089</text>
<text x="56.09" y="47.28" class="ann" fill="#2a2a2a">1</text>
<text x="66.41" y="47.28" class="ann" fill="#2a2a2a">0.58</text>
<text x="76.72" y="47.28" class="ann" fill="#ffffff">-0.15</text>
<text x="87.04" y="47.28" class="ann" fill="#ffffff">-0.47</text>
<text x="97.35" y="47.28" class="ann" fill="#ffffff">-0.45</text>
<text x="107.67" y="47.28" class="ann" fill="#ffffff">-0.45</text>
<text x="117.98" y="47.28" class="ann" fill="#ffffff">-0.43</text>
<text x="128.30" y="47.28" class="ann" fill="#ffffff">0.096</text>
<text x="138.62" y="47.28" class="ann" fill="#ffffff">0.095</text>
<text x="148.93" y="47.28" class="ann" fill="#ffffff">0.096</text>
<text x="159.25" y="47.28" class="ann" fill="#ffffff">0.53</text>
<text x="169.56" y="47.28" class="ann" fill="#ffffff">0.3</text>
<text x="179.88" y="47.28" class="ann" fill="#ffffff">0.28</text>
<text x="190.19" y="47.28" class="ann" fill="#ffffff">0.07</text>
<text x="200.51" y="47.28" class="ann" fill="#ffffff">-0.4</text>
<text x="210.83" y="47.28" class="ann" fill="#ffffff">-0.092</text>
<text x="221.14" y="47.28" class="ann" fill="#ffffff">-0.035</text>
<text x="35.46" y="57.91" class="ann" fill="#ffffff">-0.5</text>
<text x="45.77" y="57.91" class="ann" fill="#ffffff">0.078</text>
<text x="56.09" y="57.91" class="ann" fill="#2a2a2a">0.58</text>
<text x="66.41" y="57.91" class="ann" fill="#2a2a2a">1</text>
<text x="76.72" y="57.91" class="ann" fill="#ffffff">0.12</text>
<text x="87.04" y="57.91" class="ann" fill="#ffffff">-0.34</text>
<text x="97.35" y="57.91" class="ann" fill="#ffffff">-0.59</text>
<text x="107.67" y="57.91" class="ann" fill="#ffffff">-0.61</text>
<text x="117.98" y="57.91" class="ann" fill="#ffffff">-0.63</text>
<text x="128.30" y="57.91" class="ann" fill="#ffffff">0.21</text>
<text x="138.62" y="57.91" class="ann" fill="#ffffff">0.21</text>
<text x="148.93" y="57.91" class="ann" fill="#ffffff">0.21</text>
<text x="159.25" y="57.91" class="ann" fill="#ffffff">0.31</text>
<text x="169.56" y="57.91" class="ann" fill="#ffffff">-0.048</text>
<text x="179.88" y="57.91" class="ann" fill="#ffffff">0.15</text>
<text x="190.19" y="57.91" class="ann" fill="#ffffff">0.096</text>
<text x="200.51" y="57.91" class="ann" fill="#ffffff">-0.61</text>
<text x="210.83" y="57.91" class="ann" fill="#ffffff">-0.21</text>
<text x="221.14" y="57.91" class="ann" fill="#ffffff">-0.12</text>
<text x="35.46" y="68.54" class="ann" fill="#ffffff">0.18</text>
<text x="45.77" y="68.54" class="ann" fill="#2a2a2a">0.75</text>
<text x="56.09" y="68.54" class="ann" fill="#ffffff">-0.15</text>
<text x="66.41" y="68.54" class="ann" fill="#ffffff">0.12</text>
<text x="76.72" y="68.54" class="ann" fill="#2a2a2a">1</text>
<text x="87.04" y="68.54" class="ann" fill="#ffffff">0.021</text>
<text x="97.35" y="68.54" class="ann" fill="#ffffff">0.32</text>
<text x="107.67" y="68.54" class="ann" fill="#ffffff">0.29</text>
<text x="117.98" y="68.54" class="ann" fill="#ffffff">0.27</text>
<text x="128.30" y="68.54" class="ann" fill="#ffffff">-0.026</text>
<text x="138.62" y="68.54" class="ann" fill="#ffffff">-0.026</text>
<text x="148.93" y="68.54" class="ann" fill="#ffffff">-0.026</text>
<text x="159.25" y="68.54" class="ann" fill="#ffffff">-0.093</text>
<text x="169.56" y="68.54" class="ann" fill="#ffffff">-0.52</text>
<text x="179.88" y="68.54" class="ann" fill="#ffffff">-0.79</text>
<text x="190.19" y="68.54" class="ann" fill="#ffffff">-0.038</text>
<text x="200.51" y="68.54" class="ann" fill="#ffffff">-0.047</text>
<text x="210.83" y="68.54" class="ann" fill="#ffffff">0.029</text>
<text x="221.14" y="68.54" class="ann" fill="#ffffff">-0.0064</text>
<text x="35.46" y="79.17" class="ann" fill="#ffffff">0.089</text>
<text x="45.77" y="79.17" class="ann" fill="#ffffff">0.067</text>
<text x="56.09" y="79.17" class="ann" fill="#ffffff">-0.47</text>
<text x="66.41" y="79.17" class="ann" fill="#ffffff">-0.34</text>
<text x="76.72" y="79.17" class="ann" fill="#ffffff">0.021</text>
<text x="87.04" y="79.17" class="ann" fill="#2a2a2a">1</text>
<text x="97.35" y="79.17" class="ann" fill="#ffffff">0.35</text>
<text x="107.67" y="79.17" class="ann" fill="#ffffff">0.34</text>
<text x="117.98" y="79.17" class="ann" fill="#ffffff">0.34</text>
<text x="128.30" y="79.17" class="ann" fill="#ffffff">-0.13</text>
<text x="138.62" y="79.17" class="ann" fill="#ffffff">-0.13</text>
<text x="148.93" y="79.17" class="ann" fill="#ffffff">-0.13</text>
<text x="159.25" y="79.17" class="ann" fill="#ffffff">-0.28</text>
<text x="169.56" y="79.17" class="ann" fill="#ffffff">-0.28</text>
<text x="179.88" y="79.17" class="ann" fill="#ffffff">-0.15</text>
<text x="190.19" y="79.17" class="ann" fill="#ffffff">-0.12</text>
<text x="200.51" y="79.17" class="ann" fill="#ffffff">0.12</text>
<text x="210.83" y="79.17" class="ann" fill="#ffffff">0.11</text>
<text x="221.14" y="79.17" class="ann" fill="#ffffff">-0.0092</text>
<text x="35.46" y="89.81" class="ann" fill="#ffffff">0.26</text>
<text x="45.77" y="89.81" class="ann" fill="#ffffff">0.39</text>
<text x="56.09" y="89.81" class="ann" fill="#ffffff">-0.45</text>
<text x="66.41" y="89.81" class="ann" fill="#ffffff">-0.59</text>
<text x="76.72" y="89.81" class="ann" fill="#ffffff">0.32</text>
<text x="87.04" y="89.81" class="ann" fill="#ffffff">0.35</text>
<text x="97.35" y="89.81" class="ann" fill="#2a2a2a">1</text>
<text x="107.67" y="89.81" class="ann" fill="#2a2a2a">0.98</text>
<text x="117.98" y="89.81" class="ann" fill="#2a2a2a">0.87</text>
<text x="128.30" y="89.81" class="ann" fill="#ffffff">-0.38</text>
<text x="138.62" y="89.81" class="ann" fill="#ffffff">-0.38</text>
<text x="148.93" y="89.81" class="ann" fill="#ffffff">-0.38</text>
<text x="159.25" y="89.81" class="ann" fill="#ffffff">-0.17</text>
<text x="169.56" y="89.81" class="ann" fill="#ffffff">-0.28</text>
<text x="179.88" y="89.81" class="ann" fill="#ffffff">-0.44</text>
<text x="190.19" y="89.81" class="ann" fill="#ffffff">-0.1</text>
<text x="200.51" y="89.81" class="ann" fill="#2a2a2a">0.76</text>
<text x="210.83" y="89.81" class="ann" fill="#ffffff">0.36</text>
<text x="221.14" y="89.81" class="ann" fill="#ffffff">-0.17</text>
<text x="35.46" y="100.44" class="ann" fill="#ffffff">0.25</text>
<text x="45.77" y="100.44" class="ann" fill="#ffffff">0.38</text>
<text x="56.09" y="100.44" class="ann" fill="#ffffff">-0.45</text>
<text x="66.41" y="100.44" class="ann" fill="#ffffff">-0.61</text>
<text x="76.72" y="100.44" class="ann" fill="#ffffff">0.29</text>
<text x="87.04" y="100.44" class="ann" fill="#ffffff">0.34</text>
<text x="97.35" y="100.44" class="ann" fill="#2a2a2a">0.98</text>
<text x="107.67" y="100.44" class="ann" fill="#2a2a2a">1</text>
<text x="117.98" y="100.44" class="ann" fill="#2a2a2a">0.9</text>
<text x="128.30" y="100.44" class="ann" fill="#ffffff">-0.32</text>
<text x="138.62" y="100.44" class="ann" fill="#ffffff">-0.32</text>
<text x="148.93" y="100.44" class="ann" fill="#ffffff">-0.32</text>
<text x="159.25" y="100.44" class="ann" fill="#ffffff">-0.17</text>
<text x="169.56" y="100.44" class="ann" fill="#ffffff">-0.26</text>
<text x="179.88" y="100.44" class="ann" fill="#ffffff">-0.43</text>
<text x="190.19" y="100.44" class="ann" fill="#ffffff">-0.1</text>
<text x="200.51" y="100.44" class="ann" fill="#2a2a2a">0.81</text>
<text x="210.83" y="100.44" class="ann" fill="#ffffff">0.32</text>
<text x="221.14" y="100.44" class="ann" fill="#ffffff">-0.16</text>
<text x="35.46" y="111.07" class="ann" fill="#ffffff">0.23</text>
<text x="45.77" y="111.07" class="ann" fill="#ffffff">0.33</text>
<text x="56.09" y="111.07" class="ann" fill="#ffffff">-0.43</text>
<text x="66.41" y="111.07" class="ann" fill="#ffffff">-0.63</text>
<text x="76.72" y="111.07" class="ann" fill="#ffffff">0.27</text>
<text x="87.04" y="111.07" class="ann" fill="#ffffff">0.34</text>
<text x="97.35" y="111.07" class="ann" fill="#2a2a2a">0.87</text>
<text x="107.67" y="111.07" class="ann" fill="#2a2a2a">0.9</text>
<text x="117.98" y="111.07" class="ann" fill="#2a2a2a">1</text>
<text x="128.30" y="111.07" class="ann" fill="#ffffff">-0.054</text>
<text x="138.62" y="111.07" class="ann" fill="#ffffff">-0.055</text>
<text x="148.93" y="111.07" class="ann" fill="#ffffff">-0.054</text>
<text x="159.25" y="111.07" class="ann" fill="#ffffff">-0.16</text>
<text x="169.56" y="111.07" class="ann" fill="#ffffff">-0.22</text>
<text x="179.88" y="111.07" class="ann" fill="#ffffff">-0.37</text>
<text x="190.19" y="111.07" class="ann" fill="#ffffff">-0.11</text>
<text x="200.51" y="111.07" class="ann" fill="#2a2a2a">0.93</text>
<text x="210.83" y="111.07" class="ann" fill="#ffffff">0.052</text>
<text x="221.14" y="111.07" class="ann" fill="#ffffff">-0.053</text>
<text x="35.46" y="121.70" class="ann" fill="#ffffff">0.026</text>
<text x="45.77" y="121.70" class="ann" fill="#ffffff">-0.059</text>
<text x="56.09" y="121.70" class="ann" fill="#ffffff">0.096</text>
<text x="66.41" y="121.70" class="ann" fill="#ffffff">0.21</text>
<text x="76.72" y="121.70" class="ann" fill="#ffffff">-0.026</text>
<text x="87.04" y="121.70" class="ann" fill="#ffffff">-0.13</text>
<text x="97.35" y="121.70" class="ann" fill="#ffffff">-0.38</text>
<text x="107.67" y="121.70" class="ann" fill="#ffffff">-0.32</text>
<text x="117.98" y="121.70" class="ann" fill="#ffffff">-0.054</text>
<text x="128.30" y="121.70" class="ann" fill="#2a2a2a">1</text>
<text x="138.62" y="121.70" class="ann" fill="#2a2a2a">1</text>
<text x="148.93" y="121.70" class="ann" fill="#2a2a2a">1</text>
<text x="159.25" y="121.70" class="ann" fill="#ffffff">-0.05</text>
<text x="169.56" y="121.70" class="ann" fill="#ffffff">0.056</text>
<text x="179.88" y="121.70" class="ann" fill="#ffffff">0.023</text>
<text x="190.19" y="121.70" class="ann" fill="#ffffff">0.0038</text>
<text x="200.51" y="121.70" class="ann" fill="#ffffff">0.16</text>
<text x="210.83" y="121.70" class="ann" fill="#ffffff">-0.99</text>
<text x="221.14" y="121.70" class="ann" fill="#ffffff">0.04</text>
<text x="35.46" y="132.33" class="ann" fill="#ffffff">0.025</text>
<text x="45.77" y="132.33" class="ann" fill="#ffffff">-0.061</text>
<text x="56.09" y="132.33" class="ann" fill="#ffffff">0.095</text>
<text x="66.41" y="132.33" class="ann" fill="#ffffff">0.21</text>
<text x="76.72" y="132.33" class="ann" fill="#ffffff">-0.026</text>
<text x="87.04" y="132.33" class="ann" fill="#ffffff">-0.13</text>
<text x="97.35" y="132.33" class="ann" fill="#ffffff">-0.38</text>
<text x="107.67" y="132.33" class="ann" fill="#ffffff">-0.32</text>
<text x="117.98" y="132.33" class="ann" fill="#ffffff">-0.055</text>
<text x="128.30" y="132.33" class="ann" fill="#2a2a2a">1</text>
<text x="138.62" y="132.33" class="ann" fill="#2a2a2a">1</text>
<text x="148.93" y="132.33" class="ann" fill="#2a2a2a">1</text>
<text x="159.25" y="132.33" class="ann" fill="#ffffff">-0.049</text>
<text x="169.56" y="132.33" class="ann" fill="#ffffff">0.057</text>
<text x="179.88" y="132.33" class="ann" fill="#ffffff">0.024</text>
<text x="190.19" y="132.33" class="ann" fill="#ffffff">0.0038</text>
<text x="200.51" y="132.33" class="ann" fill="#ffffff">0.16</text>
<text x="210.83" y="132.33" class="ann" fill="#ffffff">-0.99</text>
<text x="221.14" y="132.33" class="ann" fill="#ffffff">0.04</text>
<text x="35.46" y="142.96" class="ann" fill="#ffffff">0.026</text>
<text x="45.77" y="142.96" class="ann" fill="#ffffff">-0.059</text>
<text x="56.09" y="142.96" class="ann" fill="#ffffff">0.096</text>
<text x="66.41" y="142.96" class="ann" fill="#ffffff">0.21</text>
<text x="76.72" y="142.96" class="ann" fill="#ffffff">-0.026</text>
<text x="87.04" y="142.96" class="ann" fill="#ffffff">-0.13</text>
<text x="97.35" y="142.96" class="ann" fill="#ffffff">-0.38</text>
<text x="107.67" y="142.96" class="ann" fill="#ffffff">-0.32</text>
<text x="117.98" y="142.96" class="ann" fill="#ffffff">-0.054</text>
<text x="128.30" y="142.96" class="ann" fill="#2a2a2a">1</text>
<text x="138.62" y="142.96" class="ann" fill="#2a2a2a">1</text>
<text x="148.93" y="142.96" class="ann" fill="#2a2a2a">1</text>
<text x="159.25" y="142.96" class="ann" fill="#ffffff">-0.05</text>
<text x="169.56" y="142.96" class="ann" fill="#ffffff">0.056</text>
<text x="179.88" y="142.96" class="ann" fill="#ffffff">0.023</text>
<text x="190.19" y="142.96" class="ann" fill="#ffffff">0.0037</text>
<text x="200.51" y="142.96" class="ann" fill="#ffffff">0.16</text>
<text x="210.83" y="142.96" class="ann" fill="#ffffff">-0.99</text>
<text x="221.14" y="142.96" class="ann" fill="#ffffff">0.04</text>
<text x="35.46" y="153.59" class="ann" fill="#ffffff">-0.63</text>
<text x="45.77" y="153.59" class="ann" fill="#ffffff">-0.0054</text>
<text x="56.09" y="153.59" class="ann" fill="#ffffff">0.53</text>
<text x="66.41" y="153.59" class="ann" fill="#ffffff">0.31</text>
<text x="76.72" y="153.59" class="ann" fill="#ffffff">-0.093</text>
<text x="87.04" y="153.59" class="ann" fill="#ffffff">-0.28</text>
<text x="97.35" y="153.59" class="ann" fill="#ffffff">-0.17</text>
<text x="107.67" y="153.59" class="ann" fill="#ffffff">-0.17</text>
<text x="117.98" y="153.59" class="ann" fill="#ffffff">-0.16</text>
<text x="128.30" y="153.59" class="ann" fill="#ffffff">-0.05</text>
<text x="138.62" y="153.59" class="ann" fill="#ffffff">-0.049</text>
<text x="148.93" y="153.59" class="ann" fill="#ffffff">-0.05</text>
<text x="159.25" y="153.59" class="ann" fill="#2a2a2a">1</text>
<text x="169.56" y="153.59" class="ann" fill="#ffffff">-0.001</text>
<text x="179.88" y="153.59" class="ann" fill="#ffffff">0.51</text>
<text x="190.19" y="153.59" class="ann" fill="#ffffff">0.32</text>
<text x="200.51" y="153.59" class="ann" fill="#ffffff">-0.18</text>
<text x="210.83" y="153.59" class="ann" fill="#ffffff">0.052</text>
<text x="221.14" y="153.59" class="ann" fill="#ffffff">-0.07</text>
<text x="35.46" y="164.23" class="ann" fill="#ffffff">0.0079</text>
<text x="45.77" y="164.23" class="ann" fill="#ffffff">-0.62</text>
<text x="56.09" y="164.23" class="ann" fill="#ffffff">0.3</text>
<text x="66.41" y="164.23" class="ann" fill="#ffffff">-0.048</text>
<text x="76.72" y="164.23" class="ann" fill="#ffffff">-0.52</text>
<text x="87.04" y="164.23" class="ann" fill="#ffffff">-0.28</text>
<text x="97.35" y="164.23" class="ann" fill="#ffffff">-0.28</text>
<text x="107.67" y="164.23" class="ann" fill="#ffffff">-0.26</text>
<text x="117.98" y="164.23" class="ann" fill="#ffffff">-0.22</text>
<text x="128.30" y="164.23" class="ann" fill="#ffffff">0.056</text>
<text x="138.62" y="164.23" class="ann" fill="#ffffff">0.057</text>
<text x="148.93" y="164.23" class="ann" fill="#ffffff">0.056</text>
<text x="159.25" y="164.23" class="ann" fill="#ffffff">-0.001</text>
<text x="169.56" y="164.23" class="ann" fill="#2a2a2a">1</text>
<text x="179.88" y="164.23" class="ann" fill="#2a2a2a">0.67</text>
<text x="190.19" y="164.23" class="ann" fill="#ffffff">0.25</text>
<text x="200.51" y="164.23" class="ann" fill="#ffffff">-0.089</text>
<text x="210.83" y="164.23" class="ann" fill="#ffffff">-0.049</text>
<text x="221.14" y="164.23" class="ann" fill="#ffffff">0.057</text>
<text x="35.46" y="174.86" class="ann" fill="#ffffff">-0.46</text>
<text x="45.77" y="174.86" class="ann" fill="#ffffff">-0.94</text>
<text x="56.09" y="174.86" class="ann" fill="#ffffff">0.28</text>
<text x="66.41" y="174.86" class="ann" fill="#ffffff">0.15</text>
<text x="76.72" y="174.86" class="ann" fill="#ffffff">-0.79</text>
<text x="87.04" y="174.86" class="ann" fill="#ffffff">-0.15</text>
<text x="97.35" y="174.86" class="ann" fill="#ffffff">-0.44</text>
<text x="107.67" y="174.86" class="ann" fill="#ffffff">-0.43</text>
<text x="117.98" y="174.86" class="ann" fill="#ffffff">-0.37</text>
<text x="128.30" y="174.86" class="ann" fill="#ffffff">0.023</text>
<text x="138.62" y="174.86" class="ann" fill="#ffffff">0.024</text>
<text x="148.93" y="174.86" class="ann" fill="#ffffff">0.023</text>
<text x="159.25" y="174.86" class="ann" fill="#ffffff">0.51</text>
<text x="169.56" y="174.86" class="ann" fill="#2a2a2a">0.67</text>
<text x="179.88" y="174.86" class="ann" fill="#2a2a2a">1</text>
<text x="190.19" y="174.86" class="ann" fill="#ffffff">0.15</text>
<text x="200.51" y="174.86" class="ann" fill="#ffffff">-0.21</text>
<text x="210.83" y="174.86" class="ann" fill="#ffffff">-0.02</text>
<text x="221.14" y="174.86" class="ann" fill="#ffffff">0.016</text>
<text x="35.46" y="185.49" class="ann" fill="#ffffff">-0.24</text>
<text x="45.77" y="185.49" class="ann" fill="#ffffff">-0.16</text>
<text x="56.09" y="185.49" class="ann" fill="#ffffff">0.07</text>
<text x="66.41" y="185.49" class="ann" fill="#ffffff">0.096</text>
<text x="76.72" y="185.49" class="ann" fill="#ffffff">-0.038</text>
<text x="87.04" y="185.49" class="ann" fill="#ffffff">-0.12</text>
<text x="97.35" y="185.49" class="ann" fill="#ffffff">-0.1</text>
<text x="107.67" y="185.49" class="ann" fill="#ffffff">-0.1</text>
<text x="117.98" y="185.49" class="ann" fill="#ffffff">-0.11</text>
<text x="128.30" y="185.49" class="ann" fill="#ffffff">0.0038</text>
<text x="138.62" y="185.49" class="ann" fill="#ffffff">0.0038</text>
<text x="148.93" y="185.49" class="ann" fill="#ffffff">0.0037</text>
<text x="159.25" y="185.49" class="ann" fill="#ffffff">0.32</text>
<text x="169.56" y="185.49" class="ann" fill="#ffffff">0.25</text>
<text x="179.88" y="185.49" class="ann" fill="#ffffff">0.15</text>
<text x="190.19" y="185.49" class="ann" fill="#2a2a2a">1</text>
<text x="200.51" y="185.49" class="ann" fill="#ffffff">-0.1</text>
<text x="210.83" y="185.49" class="ann" fill="#ffffff">-0.00094</text>
<text x="221.14" y="185.49" class="ann" fill="#ffffff">-0.051</text>
<text x="35.46" y="196.12" class="ann" fill="#ffffff">0.23</text>
<text x="45.77" y="196.12" class="ann" fill="#ffffff">0.13</text>
<text x="56.09" y="196.12" class="ann" fill="#ffffff">-0.4</text>
<text x="66.41" y="196.12" class="ann" fill="#ffffff">-0.61</text>
<text x="76.72" y="196.12" class="ann" fill="#ffffff">-0.047</text>
<text x="87.04" y="196.12" class="ann" fill="#ffffff">0.12</text>
<text x="97.35" y="196.12" class="ann" fill="#2a2a2a">0.76</text>
<text x="107.67" y="196.12" class="ann" fill="#2a2a2a">0.81</text>
<text x="117.98" y="196.12" class="ann" fill="#2a2a2a">0.93</text>
<text x="128.30" y="196.12" class="ann" fill="#ffffff">0.16</text>
<text x="138.62" y="196.12" class="ann" fill="#ffffff">0.16</text>
<text x="148.93" y="196.12" class="ann" fill="#ffffff">0.16</text>
<text x="159.25" y="196.12" class="ann" fill="#ffffff">-0.18</text>
<text x="169.56" y="196.12" class="ann" fill="#ffffff">-0.089</text>
<text x="179.88" y="196.12" class="ann" fill="#ffffff">-0.21</text>
<text x="190.19" y="196.12" class="ann" fill="#ffffff">-0.1</text>
<text x="200.51" y="196.12" class="ann" fill="#2a2a2a">1</text>
<text x="210.83" y="196.12" class="ann" fill="#ffffff">-0.17</text>
<text x="221.14" y="196.12" class="ann" fill="#ffffff">-0.1</text>
<text x="35.46" y="206.75" class="ann" fill="#ffffff">-0.021</text>
<text x="45.77" y="206.75" class="ann" fill="#ffffff">0.057</text>
<text x="56.09" y="206.75" class="ann" fill="#ffffff">-0.092</text>
<text x="66.41" y="206.75" class="ann" fill="#ffffff">-0.21</text>
<text x="76.72" y="206.75" class="ann" fill="#ffffff">0.029</text>
<text x="87.04" y="206.75" class="ann" fill="#ffffff">0.11</text>
<text x="97.35" y="206.75" class="ann" fill="#ffffff">0.36</text>
<text x="107.67" y="206.75" class="ann" fill="#ffffff">0.32</text>
<text x="117.98" y="206.75" class="ann" fill="#ffffff">0.052</text>
<text x="128.30" y="206.75" class="ann" fill="#ffffff">-0.99</text>
<text x="138.62" y="206.75" class="ann" fill="#ffffff">-0.99</text>
<text x="148.93" y="206.75" class="ann" fill="#ffffff">-0.99</text>
<text x="159.25" y="206.75" class="ann" fill="#ffffff">0.052</text>
<text x="169.56" y="206.75" class="ann" fill="#ffffff">-0.049</text>
<text x="179.88" y="206.75" class="ann" fill="#ffffff">-0.02</text>
<text x="190.19" y="206.75" class="ann" fill="#ffffff">-0.00094</text>
<text x="200.51" y="206.75" class="ann" fill="#ffffff">-0.17</text>
<text x="210.83" y="206.75" class="ann" fill="#2a2a2a">1</text>
<text x="221.14" y="206.75" class="ann" fill="#ffffff">-0.04</text>
<text x="35.46" y="217.38" class="ann" fill="#ffffff">0.16</text>
<text x="45.77" y="217.38" class="ann" fill="#ffffff">-0.084</text>
<text x="56.09" y="217.38" class="ann" fill="#ffffff">-0.035</text>
<text x="66.41" y="217.38" class="ann" fill="#ffffff">-0.12</text>
<text x="76.72" y="217.38" class="ann" fill="#ffffff">-0.0064</text>
<text x="87.04" y="217.38" class="ann" fill="#ffffff">-0.0092</text>
<text x="97.35" y="217.38" class="ann" fill="#ffffff">-0.17</text>
<text x="107.67" y="217.38" class="ann" fill="#ffffff">-0.16</text>
<text x="117.98" y="217.38" class="ann" fill="#ffffff">-0.053</text>
<text x="128.30" y="217.38" class="ann" fill="#ffffff">0.04</text>
<text x="138.62" y="217.38" class="ann" fill="#ffffff">0.04</text>
<text x="148.93" y="217.38" class="ann" fill="#ffffff">0.04</text>
<text x="159.25" y="217.38" class="ann" fill="#ffffff">-0.07</text>
<text x="169.56" y="217.38" class="ann" fill="#ffffff">0.057</text>
<text x="179.88" y="217.38" class="ann" fill="#ffffff">0.016</text>
<text x="190.19" y="217.38" class="ann" fill="#ffffff">-0.051</text>
<text x="200.51" y="217.38" class="ann" fill="#ffffff">-0.1</text>
<text x="210.83" y="217.38" class="ann" fill="#ffffff">-0.04</text>
<text x="221.14" y="217.38" class="ann" fill="#2a2a2a">1</text>
<text x="28.6" y="25.32" class="hyl">Ra</text>
<line x1="28.9" x2="30.4" y1="24.22" y2="24.22" stroke="#555" stroke-width="0.3"/>
<text x="28.6" y="35.95" class="hyl">RB</text>
<line x1="28.9" x2="30.4" y1="34.85" y2="34.85" stroke="#555" stroke-width="0.3"/>
<text x="28.6" y="46.58" class="hyl">Formation energy</text>
<line x1="28.9" x2="30.4" y1="45.48" y2="45.48" stroke="#555" stroke-width="0.3"/>
<text x="28.6" y="57.21" class="hyl">Stability</text>
<line x1="28.9" x2="30.4" y1="56.11" y2="56.11" stroke="#555" stroke-width="0.3"/>
<text x="28.6" y="67.84" class="hyl">Volume per atom</text>
<line x1="28.9" x2="30.4" y1="66.74" y2="66.74" stroke="#555" stroke-width="0.3"/>
<text x="28.6" y="78.47" class="hyl">Band gap</text>
<line x1="28.9" x2="30.4" y1="77.37" y2="77.37" stroke="#555" stroke-width="0.3"/>
<text x="28.6" y="89.11" class="hyl">a</text>
<line x1="28.9" x2="30.4" y1="88.01" y2="88.01" stroke="#555" stroke-width="0.3"/>
<text x="28.6" y="99.74" class="hyl">b</text>
<line x1="28.9" x2="30.4" y1="98.64" y2="98.64" stroke="#555" stroke-width="0.3"/>
<text x="28.6" y="110.37" class="hyl">c</text>
<line x1="28.9" x2="30.4" y1="109.27" y2="109.27" stroke="#555" stroke-width="0.3"/>
<text x="28.6" y="121.00" class="hyl">alpha</text>
<line x1="28.9" x2="30.4" y1="119.90" y2="119.90" stroke="#555" stroke-width="0.3"/>
<text x="28.6" y="131.63" class="hyl">beta</text>
<line x1="28.9" x2="30.4" y1="130.53" y2="130.53" stroke="#555" stroke-width="0.3"/>
<text x="28.6" y="142.26" class="hyl">gamma</text>
<line x1="28.9" x2="30.4" y1="141.16" y2="141.16" stroke="#555" stroke-width="0.3"/>
<text x="28.6" y="152.89" class="hyl">ENA</text>
<line x1="28.9" x2="30.4" y1="151.79" y2="151.79" stroke="#555" stroke-width="0.3"/>
<text x="28.6" y="163.53" class="hyl">ENB</text>
<line x1="28.9" x2="30.4" y1="162.43" y2="162.43" stroke="#555" stroke-width="0.3"/>
<text x="28.6" y="174.16" class="hyl">ENX</text>
<line x1="28.9" x2="30.4" y1="173.06" y2="173.06" stroke="#555" stroke-width="0.3"/>
<text x="28.6" y="184.79" class="hyl">Nature of Bandgap</text>
<line x1="28.9" x2="30.4" y1="183.69" y2="183.69" stroke="#555" stroke-width="0.3"/>
<text x="28.6" y="195.42" class="hyl">orthorhombic</text>
<line x1="28.9" x2="30.4" y1="194.32" y2="194.32" stroke="#555" stroke-width="0.3"/>
<text x="28.6" y="206.05" class="hyl">Rhombohedral</text>
<line x1="28.9" x2="30.4" y1="204.95" y2="204.95" stroke="#555" stroke-width="0.3"/>
<text x="28.6" y="216.68" class="hyl">tetragonal</text>
<line x1="28.9" x2="30.4" y1="215.58" y2="215.58" stroke="#555" stroke-width="0.3"/>
<line x1="35.46" x2="35.46" y1="220.9" y2="222.3" stroke="#555" stroke-width="0.3"/>
<text transform="translate(36.56,223.0) rotate(-90) scale(1.2,1)" class="hxl">Ra</text>
<line x1="45.77" x2="45.77" y1="220.9" y2="222.3" stroke="#555" stroke-width="0.3"/>
<text transform="translate(46.87,223.0) rotate(-90) scale(1.2,1)" class="hxl">RB</text>
<line x1="56.09" x2="56.09" y1="220.9" y2="222.3" stroke="#555" stroke-width="0.3"/>
<text transform="translate(57.19,223.0) rotate(-90) scale(1.2,1)" class="hxl">Formation energy</text>
<line x1="66.41" x2="66.41" y1="220.9" y2="222.3" stroke="#555" stroke-width="0.3"/>
<text transform="translate(67.51,223.0) rotate(-90) scale(1.2,1)" class="hxl">Stability</text>
<line x1="76.72" x2="76.72" y1="220.9" y2="222.3" stroke="#555" stroke-width="0.3"/>
<text transform="translate(77.82,223.0) rotate(-90) scale(1.2,1)" class="hxl">Volume per atom</text>
<line x1="87.04" x2="87.04" y1="220.9" y2="222.3" stroke="#555" stroke-width="0.3"/>
<text transform="translate(88.14,223.0) rotate(-90) scale(1.2,1)" class="hxl">Band gap</text>
<line x1="97.35" x2="97.35" y1="220.9" y2="222.3" stroke="#555" stroke-width="0.3"/>
<text transform="translate(98.45,223.0) rotate(-90) scale(1.2,1)" class="hxl">a</text>
<line x1="107.67" x2="107.67" y1="220.9" y2="222.3" stroke="#555" stroke-width="0.3"/>
<text transform="translate(108.77,223.0) rotate(-90) scale(1.2,1)" class="hxl">b</text>
<line x1="117.98" x2="117.98" y1="220.9" y2="222.3" stroke="#555" stroke-width="0.3"/>
<text transform="translate(119.08,223.0) rotate(-90) scale(1.2,1)" class="hxl">c</text>
<line x1="128.30" x2="128.30" y1="220.9" y2="222.3" stroke="#555" stroke-width="0.3"/>
<text transform="translate(129.40,223.0) rotate(-90) scale(1.2,1)" class="hxl">alpha</text>
<line x1="138.62" x2="138.62" y1="220.9" y2="222.3" stroke="#555" stroke-width="0.3"/>
<text transform="translate(139.72,223.0) rotate(-90) scale(1.2,1)" class="hxl">beta</text>
<line x1="148.93" x2="148.93" y1="220.9" y2="222.3" stroke="#555" stroke-width="0.3"/>
<text transform="translate(150.03,223.0) rotate(-90) scale(1.2,1)" class="hxl">gamma</text>
<line x1="159.25" x2="159.25" y1="220.9" y2="222.3" stroke="#555" stroke-width="0.3"/>
<text transform="translate(160.35,223.0) rotate(-90) scale(1.2,1)" class="hxl">ENA</text>
<line x1="169.56" x2="169.56" y1="220.9" y2="222.3" stroke="#555" stroke-width="0.3"/>
<text transform="translate(170.66,223.0) rotate(-90) scale(1.2,1)" class="hxl">ENB</text>
<line x1="179.88" x2="179.88" y1="220.9" y2="222.3" stroke="#555" stroke-width="0.3"/>
<text transform="translate(180.98,223.0) rotate(-90) scale(1.2,1)" class="hxl">ENX</text>
<line x1="190.19" x2="190.19" y1="220.9" y2="222.3" stroke="#555" stroke-width="0.3"/>
<text transform="translate(191.29,223.0) rotate(-90) scale(1.2,1)" class="hxl">Nature of Bandgap</text>
<line x1="200.51" x2="200.51" y1="220.9" y2="222.3" stroke="#555" stroke-width="0.3"/>
<text transform="translate(201.61,223.0) rotate(-90) scale(1.2,1)" class="hxl">orthorhombic</text>
<line x1="210.83" x2="210.83" y1="220.9" y2="222.3" stroke="#555" stroke-width="0.3"/>
<text transform="translate(211.93,223.0) rotate(-90) scale(1.2,1)" class="hxl">Rhombohedral</text>
<line x1="221.14" x2="221.14" y1="220.9" y2="222.3" stroke="#555" stroke-width="0.3"/>
<text transform="translate(222.24,223.0) rotate(-90) scale(1.2,1)" class="hxl">tetragonal</text>
<defs><linearGradient id="cbg" x1="0" y1="1" x2="0" y2="0">
<stop offset="0.000" stop-color="#03051a"/>
<stop offset="0.050" stop-color="#130d25"/>
<stop offset="0.100" stop-color="#251433"/>
<stop offset="0.150" stop-color="#381a40"/>
<stop offset="0.200" stop-color="#4c1d4b"/>
<stop offset="0.250" stop-color="#611f53"/>
<stop offset="0.300" stop-color="#751f58"/>
<stop offset="0.350" stop-color="#8b1d5b"/>
<stop offset="0.400" stop-color="#a11a5b"/>
<stop offset="0.450" stop-color="#b71657"/>
<stop offset="0.500" stop-color="#cb1b4f"/>
<stop offset="0.550" stop-color="#db2946"/>
<stop offset="0.600" stop-color="#e83f3f"/>
<stop offset="0.650" stop-color="#ef5840"/>
<stop offset="0.700" stop-color="#f3714d"/>
<stop offset="0.750" stop-color="#f58860"/>
<stop offset="0.800" stop-color="#f69c73"/>
<stop offset="0.850" stop-color="#f6b18b"/>
<stop offset="0.900" stop-color="#f7c6a6"/>
<stop offset="0.950" stop-color="#f8d9c3"/>
<stop offset="1.000" stop-color="#faebdd"/>
</linearGradient></defs>
<rect x="238.6" y="19.0" width="8.80" height="202.00" fill="url(#cbg)"/>
<line x1="247.4" x2="248.9" y1="19.00" y2="19.00" stroke="#555" stroke-width="0.3"/>
<text x="249.6" y="20.50" class="cbl">1.00</text>
<line x1="247.4" x2="248.9" y1="44.38" y2="44.38" stroke="#555" stroke-width="0.3"/>
<text x="249.6" y="45.88" class="cbl">0.75</text>
<line x1="247.4" x2="248.9" y1="69.75" y2="69.75" stroke="#555" stroke-width="0.3"/>
<text x="249.6" y="71.25" class="cbl">0.50</text>
<line x1="247.4" x2="248.9" y1="95.13" y2="95.13" stroke="#555" stroke-width="0.3"/>
<text x="249.6" y="96.63" class="cbl">0.25</text>
<line x1="247.4" x2="248.9" y1="120.51" y2="120.51" stroke="#555" stroke-width="0.3"/>
<text x="249.6" y="122.01" class="cbl">0.00</text>
<line x1="247.4" x2="248.9" y1="145.88" y2="145.88" stroke="#555" stroke-width="0.3"/>
<text x="249.6" y="147.38" class="cbl">-0.25</text>
<line x1="247.4" x2="248.9" y1="171.26" y2="171.26" stroke="#555" stroke-width="0.3"/>
<text x="249.6" y="172.76" class="cbl">-0.50</text>
<line x1="247.4" x2="248.9" y1="196.64" y2="196.64" stroke="#555" stroke-width="0.3"/>
<text x="249.6" y="198.14" class="cbl">-0.75</text>
</g>
<g id="pb">
<text x="269.3" y="14.3" class="plab">(b)</text>
<rect x="305.2" y="26.5" width="234.00" height="158.80" fill="none" stroke="#4a4a4a" stroke-width="1.3"/>
<text x="305.20" y="204.0" class="bt" text-anchor="middle">0</text>
<line x1="328.60" x2="328.60" y1="185.3" y2="180.8" stroke="#3a3a3a" stroke-width="0.8"/>
<line x1="352.00" x2="352.00" y1="185.3" y2="180.8" stroke="#3a3a3a" stroke-width="0.8"/>
<text x="352.00" y="204.0" class="bt" text-anchor="middle">5</text>
<line x1="375.40" x2="375.40" y1="185.3" y2="180.8" stroke="#3a3a3a" stroke-width="0.8"/>
<line x1="398.80" x2="398.80" y1="185.3" y2="180.8" stroke="#3a3a3a" stroke-width="0.8"/>
<text x="398.80" y="204.0" class="bt" text-anchor="middle">10</text>
<line x1="422.20" x2="422.20" y1="185.3" y2="180.8" stroke="#3a3a3a" stroke-width="0.8"/>
<line x1="445.60" x2="445.60" y1="185.3" y2="180.8" stroke="#3a3a3a" stroke-width="0.8"/>
<text x="445.60" y="204.0" class="bt" text-anchor="middle">15</text>
<line x1="469.00" x2="469.00" y1="185.3" y2="180.8" stroke="#3a3a3a" stroke-width="0.8"/>
<line x1="492.40" x2="492.40" y1="185.3" y2="180.8" stroke="#3a3a3a" stroke-width="0.8"/>
<text x="492.40" y="204.0" class="bt" text-anchor="middle">20</text>
<line x1="515.80" x2="515.80" y1="185.3" y2="180.8" stroke="#3a3a3a" stroke-width="0.8"/>
<text x="539.20" y="204.0" class="bt" text-anchor="middle">25</text>
<text x="298.2" y="30.90" class="bt" text-anchor="end">1.1</text>
<line x1="305.2" x2="310.0" y1="49.19" y2="49.19" stroke="#3a3a3a" stroke-width="0.8"/>
<text x="298.2" y="53.59" class="bt" text-anchor="end">0.9</text>
<line x1="305.2" x2="310.0" y1="71.87" y2="71.87" stroke="#3a3a3a" stroke-width="0.8"/>
<text x="298.2" y="76.27" class="bt" text-anchor="end">0.7</text>
<line x1="305.2" x2="310.0" y1="94.56" y2="94.56" stroke="#3a3a3a" stroke-width="0.8"/>
<text x="298.2" y="98.96" class="bt" text-anchor="end">0.5</text>
<line x1="305.2" x2="310.0" y1="117.24" y2="117.24" stroke="#3a3a3a" stroke-width="0.8"/>
<text x="298.2" y="121.64" class="bt" text-anchor="end">0.3</text>
<line x1="305.2" x2="310.0" y1="139.93" y2="139.93" stroke="#3a3a3a" stroke-width="0.8"/>
<text x="298.2" y="144.33" class="bt" text-anchor="end">0.1</text>
<line x1="305.2" x2="310.0" y1="162.61" y2="162.61" stroke="#3a3a3a" stroke-width="0.8"/>
<text x="298.2" y="167.01" class="bt" text-anchor="end">-0.1</text>
<text x="298.2" y="189.70" class="bt" text-anchor="end">-0.3</text>
<text x="415.9" y="215.6" class="bxl" text-anchor="middle">Feature number</text>
<text transform="translate(278.6,95.6) rotate(-90)" class="bxl" style="font-size:13.7px" text-anchor="middle"><tspan font-style="italic">R</tspan> of BPANN algorithm</text>
<path d="M314.56,174.52 C316.12,159.91 320.80,107.26 323.92,86.84 C327.04,66.43 330.16,57.83 333.28,52.02 C336.40,46.22 339.52,51.93 342.64,52.02 C345.76,52.12 348.88,52.49 352.00,52.59 C355.12,52.68 358.24,53.06 361.36,52.59 C364.48,52.12 367.60,49.94 370.72,49.75 C373.84,49.56 376.96,53.16 380.08,51.45 C383.20,49.75 386.32,41.28 389.44,39.54 C392.56,37.81 395.68,40.55 398.80,41.02 C401.92,41.49 405.04,42.44 408.16,42.38 C411.28,42.32 414.40,40.30 417.52,40.68 C420.64,41.06 423.76,44.65 426.88,44.65 C430.00,44.65 433.12,41.15 436.24,40.68 C439.36,40.21 442.48,41.72 445.60,41.81 C448.72,41.91 451.84,41.53 454.96,41.25 C458.08,40.96 461.20,40.30 464.32,40.11 C467.44,39.92 470.56,39.36 473.68,40.11 C476.80,40.87 479.92,44.08 483.04,44.65 C486.16,45.22 489.28,42.76 492.40,43.51 C495.52,44.27 498.64,48.71 501.76,49.19 C504.88,49.66 508.00,47.11 511.12,46.35 C514.24,45.59 517.36,45.22 520.48,44.65 C523.60,44.08 528.28,43.23 529.84,42.95" fill="none" stroke="#7dd07d" stroke-width="1.0" stroke-dasharray="1.3 0.7"/>
<rect x="365" y="32.8" width="38.2" height="25.7" rx="3" fill="none" stroke="#3cb86a" stroke-width="1.3" stroke-dasharray="3 1.6"/>
<circle cx="314.56" cy="174.52" r="2.1" fill="#e4f6e4" stroke="#52c262" stroke-width="1.7"/>
<circle cx="323.92" cy="86.84" r="2.1" fill="#e4f6e4" stroke="#52c262" stroke-width="1.7"/>
<circle cx="333.28" cy="52.02" r="2.1" fill="#e4f6e4" stroke="#52c262" stroke-width="1.7"/>
<circle cx="342.64" cy="52.02" r="2.1" fill="#e4f6e4" stroke="#52c262" stroke-width="1.7"/>
<circle cx="352.00" cy="52.59" r="2.1" fill="#e4f6e4" stroke="#52c262" stroke-width="1.7"/>
<circle cx="361.36" cy="52.59" r="2.1" fill="#e4f6e4" stroke="#52c262" stroke-width="1.7"/>
<circle cx="370.72" cy="49.75" r="2.1" fill="#e4f6e4" stroke="#52c262" stroke-width="1.7"/>
<circle cx="380.08" cy="51.45" r="2.1" fill="#e4f6e4" stroke="#52c262" stroke-width="1.7"/>
<circle cx="389.44" cy="39.54" r="3.0" fill="#d4202a" stroke="#c0181f" stroke-width="0.5"/>
<circle cx="398.80" cy="41.02" r="2.1" fill="#e4f6e4" stroke="#52c262" stroke-width="1.7"/>
<circle cx="408.16" cy="42.38" r="2.1" fill="#e4f6e4" stroke="#52c262" stroke-width="1.7"/>
<circle cx="417.52" cy="40.68" r="2.1" fill="#e4f6e4" stroke="#52c262" stroke-width="1.7"/>
<circle cx="426.88" cy="44.65" r="2.1" fill="#e4f6e4" stroke="#52c262" stroke-width="1.7"/>
<circle cx="436.24" cy="40.68" r="2.1" fill="#e4f6e4" stroke="#52c262" stroke-width="1.7"/>
<circle cx="445.60" cy="41.81" r="2.1" fill="#e4f6e4" stroke="#52c262" stroke-width="1.7"/>
<circle cx="454.96" cy="41.25" r="2.1" fill="#e4f6e4" stroke="#52c262" stroke-width="1.7"/>
<circle cx="464.32" cy="40.11" r="2.1" fill="#e4f6e4" stroke="#52c262" stroke-width="1.7"/>
<circle cx="473.68" cy="40.11" r="2.1" fill="#e4f6e4" stroke="#52c262" stroke-width="1.7"/>
<circle cx="483.04" cy="44.65" r="2.1" fill="#e4f6e4" stroke="#52c262" stroke-width="1.7"/>
<circle cx="492.40" cy="43.51" r="2.1" fill="#e4f6e4" stroke="#52c262" stroke-width="1.7"/>
<circle cx="501.76" cy="49.19" r="2.1" fill="#e4f6e4" stroke="#52c262" stroke-width="1.7"/>
<circle cx="511.12" cy="46.35" r="2.1" fill="#e4f6e4" stroke="#52c262" stroke-width="1.7"/>
<circle cx="520.48" cy="44.65" r="2.1" fill="#e4f6e4" stroke="#52c262" stroke-width="1.7"/>
<circle cx="529.84" cy="42.95" r="2.1" fill="#e4f6e4" stroke="#52c262" stroke-width="1.7"/>
<defs><linearGradient id="ibg" x1="0" y1="0" x2="0" y2="1"><stop offset="0" stop-color="#ffffff"/><stop offset="0.5" stop-color="#fbfbf7"/><stop offset="1" stop-color="#efeee0"/></linearGradient></defs>
<rect x="388.4" y="77.7" width="124.10" height="75.80" fill="url(#ibg)" stroke="#b8b8b0" stroke-width="0.8"/>
<line x1="388.4" x2="512.5" y1="153.5" y2="153.5" stroke="#777" stroke-width="0.9"/>
<line x1="388.4" x2="388.4" y1="77.7" y2="153.5" stroke="#777" stroke-width="0.9"/>
<text x="388.40" y="167.2" class="it" text-anchor="middle">7</text>
<line x1="400.81" x2="400.81" y1="153.5" y2="151.5" stroke="#777" stroke-width="0.6"/>
<line x1="413.22" x2="413.22" y1="153.5" y2="150.5" stroke="#777" stroke-width="0.6"/>
<text x="413.22" y="167.2" class="it" text-anchor="middle">8</text>
<line x1="425.63" x2="425.63" y1="153.5" y2="151.5" stroke="#777" stroke-width="0.6"/>
<line x1="438.04" x2="438.04" y1="153.5" y2="150.5" stroke="#777" stroke-width="0.6"/>
<text x="438.04" y="167.2" class="it" text-anchor="middle">9</text>
<line x1="450.45" x2="450.45" y1="153.5" y2="151.5" stroke="#777" stroke-width="0.6"/>
<line x1="462.86" x2="462.86" y1="153.5" y2="150.5" stroke="#777" stroke-width="0.6"/>
<text x="462.86" y="167.2" class="it" text-anchor="middle">10</text>
<line x1="475.27" x2="475.27" y1="153.5" y2="151.5" stroke="#777" stroke-width="0.6"/>
<line x1="487.68" x2="487.68" y1="153.5" y2="150.5" stroke="#777" stroke-width="0.6"/>
<text x="487.68" y="167.2" class="it" text-anchor="middle">11</text>
<line x1="500.09" x2="500.09" y1="153.5" y2="151.5" stroke="#777" stroke-width="0.6"/>
<text x="512.50" y="167.2" class="it" text-anchor="middle">12</text>
<line x1="388.4" x2="390.9" y1="153.50" y2="153.50" stroke="#777" stroke-width="0.6"/>
<text x="383.2" y="156.70" class="it" text-anchor="end">0.84</text>
<line x1="388.4" x2="390.9" y1="129.45" y2="129.45" stroke="#777" stroke-width="0.6"/>
<text x="383.2" y="132.65" class="it" text-anchor="end">0.89</text>
<line x1="388.4" x2="390.9" y1="105.40" y2="105.40" stroke="#777" stroke-width="0.6"/>
<text x="383.2" y="108.60" class="it" text-anchor="end">0.94</text>
<line x1="388.4" x2="390.9" y1="81.35" y2="81.35" stroke="#777" stroke-width="0.6"/>
<text x="383.2" y="84.55" class="it" text-anchor="end">0.99</text>
<path d="M413.22,135.22 C419.22,109.22 429.04,86.75 438.04,83.75 C446.04,84.25 454.86,88.03 462.86,89.53 C470.86,91.03 479.68,93.80 487.68,95.30" fill="none" stroke="#7dd07d" stroke-width="1.0" stroke-dasharray="1.3 0.7"/>
<circle cx="413.22" cy="135.22" r="2.2" fill="#e4f6e4" stroke="#52c262" stroke-width="1.6"/>
<circle cx="438.04" cy="83.75" r="3.0" fill="#d4202a" stroke="#c0181f" stroke-width="0.5"/>
<circle cx="462.86" cy="89.53" r="2.2" fill="#e4f6e4" stroke="#52c262" stroke-width="1.6"/>
<circle cx="487.68" cy="95.30" r="2.2" fill="#e4f6e4" stroke="#52c262" stroke-width="1.6"/>
</g>
<g id="pc">
<text x="5.2" y="250.9" class="plab">(c)</text>
<rect x="23.6" y="257.00" width="204.40" height="7.51" fill="#f8c690" stroke="#7e6e60" stroke-width="0.8"/>
<text x="228.70" y="263.95" class="cl"><tspan font-style="italic">d</tspan><tspan font-style="italic" font-size="5.4" dy="1.7">A-O</tspan></text>
<rect x="23.6" y="266.50" width="156.00" height="6.51" fill="#f8c690" stroke="#7e6e60" stroke-width="0.8"/>
<text x="181.90" y="272.96" class="cl"><tspan font-style="italic">I</tspan></text>
<rect x="23.6" y="275.01" width="149.40" height="6.51" fill="#f8c690" stroke="#7e6e60" stroke-width="0.8"/>
<text x="175.60" y="281.46" class="cl"><tspan font-style="italic">μ</tspan></text>
<rect x="23.6" y="283.51" width="146.00" height="6.51" fill="#f8c690" stroke="#7e6e60" stroke-width="0.8"/>
<text x="171.50" y="289.97" class="cl">B-ZR</text>
<rect x="23.6" y="292.02" width="124.10" height="6.51" fill="#f8c690" stroke="#7e6e60" stroke-width="0.8"/>
<text x="148.80" y="298.47" class="cl">A-ZR</text>
<rect x="23.6" y="300.52" width="113.70" height="6.51" fill="#f8c690" stroke="#7e6e60" stroke-width="0.8"/>
<text x="138.90" y="306.98" class="cl"><tspan font-style="italic">Δχ</tspan><tspan font-style="italic" font-size="5.4" dy="1.7">BO</tspan><tspan dy="-1.7">*</tspan><tspan font-style="italic">r</tspan><tspan font-style="italic" font-size="5.4" dy="1.7">B</tspan><tspan font-style="italic" dy="-1.7"> / r</tspan><tspan font-style="italic" font-size="5.4" dy="1.7">O</tspan></text>
<rect x="23.6" y="309.03" width="103.00" height="6.51" fill="#f8c690" stroke="#7e6e60" stroke-width="0.8"/>
<text x="129.30" y="315.48" class="cl">B-IE</text>
<rect x="23.6" y="317.54" width="66.10" height="6.51" fill="#f8c690" stroke="#7e6e60" stroke-width="0.8"/>
<text x="92.60" y="323.99" class="cl"><tspan font-style="italic">M</tspan><tspan font-style="italic" font-size="5.4" dy="1.7">A</tspan></text>
<rect x="23.6" y="326.04" width="53.10" height="6.51" fill="#f8c690" stroke="#7e6e60" stroke-width="0.8"/>
<text x="79.40" y="332.49" class="cl"><tspan font-style="italic">χ</tspan><tspan font-style="italic" font-size="5.4" dy="1.7">A</tspan></text>
<rect x="23.6" y="334.55" width="52.00" height="6.51" fill="#f8c690" stroke="#7e6e60" stroke-width="0.8"/>
<text x="78.40" y="341.00" class="cl"><tspan font-style="italic">M</tspan><tspan font-style="italic" font-size="5.4" dy="1.7">B</tspan></text>
<rect x="23.6" y="343.05" width="48.90" height="6.51" fill="#f8c690" stroke="#7e6e60" stroke-width="0.8"/>
<text x="74.60" y="349.50" class="cl"><tspan font-style="italic">Δχ</tspan><tspan font-style="italic" font-size="5.4" dy="1.7">AO</tspan><tspan dy="-1.7">*</tspan><tspan font-style="italic">r</tspan><tspan font-style="italic" font-size="5.4" dy="1.7">A</tspan><tspan font-style="italic" dy="-1.7"> / r</tspan><tspan font-style="italic" font-size="5.4" dy="1.7">O</tspan></text>
<rect x="23.6" y="351.56" width="43.20" height="6.51" fill="#f8c690" stroke="#7e6e60" stroke-width="0.8"/>
<text x="70.60" y="358.01" class="cl"><tspan font-style="italic">r</tspan><tspan font-style="italic" font-size="5.4" dy="1.7">A</tspan><tspan font-style="italic" dy="-1.7"> / r</tspan><tspan font-style="italic" font-size="5.4" dy="1.7">O</tspan></text>
<rect x="23.6" y="360.06" width="40.80" height="6.51" fill="#f8c690" stroke="#7e6e60" stroke-width="0.8"/>
<text x="67.10" y="366.51" class="cl"><tspan font-style="italic">d</tspan><tspan font-style="italic" font-size="5.4" dy="1.7">B-O</tspan></text>
<rect x="23.6" y="368.56" width="38.80" height="6.51" fill="#f8c690" stroke="#7e6e60" stroke-width="0.8"/>
<text x="65.20" y="375.02" class="cl">A-IE</text>
<rect x="23.6" y="377.07" width="38.10" height="6.51" fill="#f8c690" stroke="#7e6e60" stroke-width="0.8"/>
<text x="65.20" y="383.52" class="cl">B-HOMO</text>
<rect x="23.6" y="385.58" width="38.10" height="6.51" fill="#f8c690" stroke="#7e6e60" stroke-width="0.8"/>
<text x="65.20" y="392.03" class="cl">A-LUMO</text>
<rect x="23.6" y="394.08" width="35.40" height="6.51" fill="#f8c690" stroke="#7e6e60" stroke-width="0.8"/>
<text x="63.50" y="400.53" class="cl"><tspan font-style="italic">χ</tspan><tspan font-style="italic" font-size="5.4" dy="1.7">B</tspan></text>
<rect x="23.6" y="402.59" width="28.40" height="6.51" fill="#f8c690" stroke="#7e6e60" stroke-width="0.8"/>
<text x="56.20" y="409.04" class="cl">A-EA</text>
<rect x="23.6" y="411.09" width="26.30" height="6.51" fill="#f8c690" stroke="#7e6e60" stroke-width="0.8"/>
<text x="54.70" y="417.54" class="cl">B-LUMO</text>
<rect x="23.6" y="419.60" width="24.60" height="6.51" fill="#f8c690" stroke="#7e6e60" stroke-width="0.8"/>
<text x="53.50" y="426.05" class="cl">A-HOMO</text>
<rect x="23.6" y="428.10" width="13.10" height="6.51" fill="#f8c690" stroke="#7e6e60" stroke-width="0.8"/>
<text x="41.60" y="434.55" class="cl">B-EA</text>
<rect x="23.6" y="256.8" width="222.30" height="178.60" fill="none" stroke="#3a3a3a" stroke-width="1.1"/>
<line x1="23.60" x2="23.60" y1="435.4" y2="438.59999999999997" stroke="#3a3a3a" stroke-width="0.8"/>
<text x="23.60" y="448.2" class="ct" text-anchor="middle">0.00</text>
<line x1="54.43" x2="54.43" y1="435.4" y2="438.59999999999997" stroke="#3a3a3a" stroke-width="0.8"/>
<text x="54.43" y="448.2" class="ct" text-anchor="middle">0.02</text>
<line x1="85.26" x2="85.26" y1="435.4" y2="438.59999999999997" stroke="#3a3a3a" stroke-width="0.8"/>
<text x="85.26" y="448.2" class="ct" text-anchor="middle">0.04</text>
<line x1="116.09" x2="116.09" y1="435.4" y2="438.59999999999997" stroke="#3a3a3a" stroke-width="0.8"/>
<text x="116.09" y="448.2" class="ct" text-anchor="middle">0.06</text>
<line x1="146.91" x2="146.91" y1="435.4" y2="438.59999999999997" stroke="#3a3a3a" stroke-width="0.8"/>
<text x="146.91" y="448.2" class="ct" text-anchor="middle">0.08</text>
<line x1="177.74" x2="177.74" y1="435.4" y2="438.59999999999997" stroke="#3a3a3a" stroke-width="0.8"/>
<text x="177.74" y="448.2" class="ct" text-anchor="middle">0.10</text>
<line x1="208.57" x2="208.57" y1="435.4" y2="438.59999999999997" stroke="#3a3a3a" stroke-width="0.8"/>
<text x="208.57" y="448.2" class="ct" text-anchor="middle">0.12</text>
<line x1="239.40" x2="239.40" y1="435.4" y2="438.59999999999997" stroke="#3a3a3a" stroke-width="0.8"/>
<text x="239.40" y="448.2" class="ct" text-anchor="middle">0.14</text>
<text x="134" y="462.2" class="cxl" text-anchor="middle">Feature importance</text>
<text transform="translate(16.8,345.7) rotate(-90)" class="cxl" text-anchor="middle">Features</text>
</g>
<g id="pd">
<text x="269.5" y="247.2" class="plab">(d)</text>
<defs><clipPath id="dclip"><rect x="322.5" y="251.5" width="218.10" height="181.70"/></clipPath></defs>
<g clip-path="url(#dclip)" fill="none" stroke-width="1.3" stroke-linejoin="miter">
<polyline points="322.50,366.39 330.29,331.13 338.08,332.31 345.87,322.44 353.66,317.74 361.45,302.93 369.24,317.74 377.03,312.80 384.81,313.50 392.60,305.28 400.39,312.33 408.18,321.26 415.97,317.50 423.76,320.68 431.55,321.82 439.34,312.73 447.13,322.50 454.92,313.41 462.71,312.73 470.50,308.18 478.29,324.09 486.08,327.50 493.86,312.27 501.65,325.23 509.44,326.36 517.23,321.82 525.02,313.18 532.81,319.55 540.60,329.77" stroke="#22e022"/>
<polyline points="322.50,379.32 330.29,339.36 338.08,336.54 345.87,334.19 353.66,324.79 361.45,313.03 369.24,330.43 377.03,320.56 384.81,325.26 392.60,326.43 400.39,318.21 408.18,324.08 415.97,322.44 423.76,322.95 431.55,322.95 439.34,322.95 447.13,327.50 454.92,322.95 462.71,320.23 470.50,312.73 478.29,319.55 486.08,329.77 493.86,316.14 501.65,324.09 509.44,328.64 517.23,325.23 525.02,322.95 532.81,320.00 540.60,318.64" stroke="#f5862a"/>
<polyline points="322.50,381.67 330.29,343.59 338.08,340.53 345.87,338.18 353.66,326.43 361.45,315.85 369.24,335.13 377.03,323.61 384.81,328.08 392.60,328.08 400.39,321.26 408.18,327.61 415.97,325.96 423.76,325.91 431.55,325.23 439.34,325.68 447.13,330.91 454.92,326.36 462.71,324.09 470.50,316.14 478.29,324.09 486.08,332.73 493.86,318.41 501.65,328.64 509.44,332.73 517.23,328.64 525.02,326.36 532.81,323.64 540.60,326.36" stroke="#2626e6"/>
<polyline points="322.50,385.19 330.29,343.59 338.08,339.83 345.87,345.24 353.66,326.43 361.45,321.26 369.24,344.77 377.03,326.43 384.81,335.83 392.60,344.77 400.39,321.73 408.18,325.26 415.97,326.43 423.76,324.09 431.55,322.95 439.34,330.91 447.13,330.91 454.92,330.91 462.71,326.36 470.50,316.14 478.29,312.27 486.08,330.91 493.86,316.14 501.65,325.23 509.44,330.45 517.23,327.50 525.02,330.91 532.81,317.73 540.60,338.86" stroke="#e82020"/>
</g>
<rect x="322.5" y="251.5" width="218.10" height="181.70" fill="none" stroke="#222" stroke-width="1.1"/>
<text x="317.6" y="255.80" class="dt" text-anchor="end">1.00</text>
<line x1="322.5" x2="326.9" y1="296.93" y2="296.93" stroke="#444" stroke-width="1"/>
<text x="317.6" y="301.23" class="dt" text-anchor="end">0.96</text>
<line x1="322.5" x2="326.9" y1="342.35" y2="342.35" stroke="#444" stroke-width="1"/>
<text x="317.6" y="346.65" class="dt" text-anchor="end">0.92</text>
<line x1="322.5" x2="326.9" y1="387.77" y2="387.77" stroke="#444" stroke-width="1"/>
<text x="317.6" y="392.07" class="dt" text-anchor="end">0.88</text>
<text x="317.6" y="437.50" class="dt" text-anchor="end">0.84</text>
<line x1="330.29" x2="330.29" y1="433.2" y2="431.4" stroke="#222" stroke-width="0.9"/>
<line x1="338.08" x2="338.08" y1="433.2" y2="431.4" stroke="#222" stroke-width="0.9"/>
<line x1="345.87" x2="345.87" y1="433.2" y2="431.4" stroke="#222" stroke-width="0.9"/>
<line x1="353.66" x2="353.66" y1="433.2" y2="429.4" stroke="#222" stroke-width="0.9"/>
<text x="353.66" y="446.9" class="dt" text-anchor="middle">5</text>
<line x1="361.45" x2="361.45" y1="433.2" y2="431.4" stroke="#222" stroke-width="0.9"/>
<line x1="369.24" x2="369.24" y1="433.2" y2="431.4" stroke="#222" stroke-width="0.9"/>
<line x1="377.03" x2="377.03" y1="433.2" y2="431.4" stroke="#222" stroke-width="0.9"/>
<line x1="384.81" x2="384.81" y1="433.2" y2="431.4" stroke="#222" stroke-width="0.9"/>
<line x1="392.60" x2="392.60" y1="433.2" y2="429.4" stroke="#222" stroke-width="0.9"/>
<text x="392.60" y="446.9" class="dt" text-anchor="middle">10</text>
<line x1="400.39" x2="400.39" y1="433.2" y2="431.4" stroke="#222" stroke-width="0.9"/>
<line x1="408.18" x2="408.18" y1="433.2" y2="431.4" stroke="#222" stroke-width="0.9"/>
<line x1="415.97" x2="415.97" y1="433.2" y2="431.4" stroke="#222" stroke-width="0.9"/>
<line x1="423.76" x2="423.76" y1="433.2" y2="431.4" stroke="#222" stroke-width="0.9"/>
<line x1="431.55" x2="431.55" y1="433.2" y2="429.4" stroke="#222" stroke-width="0.9"/>
<text x="431.55" y="446.9" class="dt" text-anchor="middle">15</text>
<line x1="439.34" x2="439.34" y1="433.2" y2="431.4" stroke="#222" stroke-width="0.9"/>
<line x1="447.13" x2="447.13" y1="433.2" y2="431.4" stroke="#222" stroke-width="0.9"/>
<line x1="454.92" x2="454.92" y1="433.2" y2="431.4" stroke="#222" stroke-width="0.9"/>
<line x1="462.71" x2="462.71" y1="433.2" y2="431.4" stroke="#222" stroke-width="0.9"/>
<line x1="470.50" x2="470.50" y1="433.2" y2="429.4" stroke="#222" stroke-width="0.9"/>
<text x="470.50" y="446.9" class="dt" text-anchor="middle">20</text>
<line x1="478.29" x2="478.29" y1="433.2" y2="431.4" stroke="#222" stroke-width="0.9"/>
<line x1="486.08" x2="486.08" y1="433.2" y2="431.4" stroke="#222" stroke-width="0.9"/>
<line x1="493.86" x2="493.86" y1="433.2" y2="431.4" stroke="#222" stroke-width="0.9"/>
<line x1="501.65" x2="501.65" y1="433.2" y2="431.4" stroke="#222" stroke-width="0.9"/>
<line x1="509.44" x2="509.44" y1="433.2" y2="429.4" stroke="#222" stroke-width="0.9"/>
<text x="509.44" y="446.9" class="dt" text-anchor="middle">25</text>
<line x1="517.23" x2="517.23" y1="433.2" y2="431.4" stroke="#222" stroke-width="0.9"/>
<line x1="525.02" x2="525.02" y1="433.2" y2="431.4" stroke="#222" stroke-width="0.9"/>
<line x1="532.81" x2="532.81" y1="433.2" y2="431.4" stroke="#222" stroke-width="0.9"/>
<text x="431.3" y="461.6" class="dxl" text-anchor="middle">Number of feature</text>
<text transform="translate(287.8,342.3) rotate(-90)" class="dyl" text-anchor="middle">Metrics</text>
<line x1="341.9" x2="370.5" y1="265.5" y2="265.5" stroke="#2626e6" stroke-width="1.3"/>
<text x="373.9" y="269.50" class="dleg">Accuracy</text>
<line x1="341.9" x2="370.5" y1="279.2" y2="279.2" stroke="#22e022" stroke-width="1.3"/>
<text x="373.9" y="283.20" class="dleg">Precision</text>
<line x1="457.8" x2="486.7" y1="265.5" y2="265.5" stroke="#f5862a" stroke-width="1.3"/>
<text x="490" y="269.50" class="dleg">F1</text>
<line x1="457.8" x2="486.7" y1="279.2" y2="279.2" stroke="#e82020" stroke-width="1.3"/>
<text x="490" y="283.20" class="dleg">Recall</text>
</g>
</svg>
</body></html>
